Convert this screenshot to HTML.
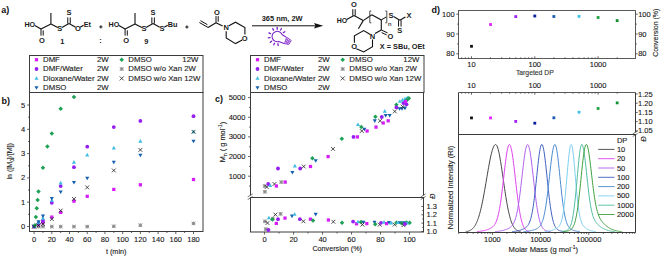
<!DOCTYPE html>
<html><head><meta charset="utf-8"><style>
html,body{margin:0;padding:0;background:#fff;}
svg{display:block;font-family:"Liberation Sans", sans-serif;}
</style></head><body>
<svg width="661" height="257" viewBox="0 0 661 257">
<rect width="661" height="257" fill="#fff"/>
<text x="1.2" y="12.8" font-size="9" text-anchor="start" font-weight="bold" fill="#111" >a)</text>
<text x="24.4" y="26.7" font-size="7.5" text-anchor="start" font-weight="bold" fill="#1a1a1a" textLength="10.69" lengthAdjust="spacingAndGlyphs" >HO</text>
<line x1="34.80" y1="25.50" x2="41.00" y2="28.90" stroke="#111" stroke-width="1.1" />
<line x1="41.00" y1="28.90" x2="41.00" y2="35.60" stroke="#111" stroke-width="1.0" />
<line x1="43.20" y1="30.37" x2="43.20" y2="35.60" stroke="#111" stroke-width="1.0" />
<text x="42.0" y="42.5" font-size="7.5" text-anchor="middle" font-weight="bold" fill="#1a1a1a" >O</text>
<line x1="41.00" y1="28.90" x2="50.90" y2="23.90" stroke="#111" stroke-width="1.1" />
<line x1="50.90" y1="23.90" x2="50.90" y2="12.90" stroke="#111" stroke-width="1.1" />
<line x1="50.90" y1="23.90" x2="57.80" y2="27.60" stroke="#111" stroke-width="1.1" />
<text x="59.8" y="31.2" font-size="7.5" text-anchor="middle" font-weight="bold" fill="#1a1a1a" >S</text>
<line x1="61.90" y1="27.40" x2="69.00" y2="23.60" stroke="#111" stroke-width="1.1" />
<line x1="70.25" y1="23.60" x2="70.25" y2="17.40" stroke="#111" stroke-width="1.0" />
<line x1="67.75" y1="23.60" x2="67.75" y2="17.40" stroke="#111" stroke-width="1.0" />
<text x="69.0" y="15.4" font-size="7.5" text-anchor="middle" font-weight="bold" fill="#1a1a1a" >S</text>
<line x1="69.00" y1="23.60" x2="75.60" y2="27.30" stroke="#111" stroke-width="1.1" />
<text x="77.9" y="31.2" font-size="7.5" text-anchor="middle" font-weight="bold" fill="#1a1a1a" >O</text>
<line x1="80.20" y1="27.30" x2="83.60" y2="25.30" stroke="#111" stroke-width="1.1" />
<text x="83.7" y="26.6" font-size="7.5" text-anchor="start" font-weight="bold" fill="#1a1a1a" textLength="7.27" lengthAdjust="spacingAndGlyphs" >Et</text>
<text x="62.3" y="43.8" font-size="7.4" text-anchor="middle" font-weight="bold" fill="#1a1a1a" >1</text>
<line x1="99.30" y1="26.90" x2="102.50" y2="26.90" stroke="#111" stroke-width="1.0" />
<line x1="100.90" y1="25.30" x2="100.90" y2="28.50" stroke="#111" stroke-width="1.0" />
<text x="100.6" y="43.2" font-size="7.4" text-anchor="middle" font-weight="bold" fill="#1a1a1a" >:</text>
<text x="108.5" y="26.7" font-size="7.5" text-anchor="start" font-weight="bold" fill="#1a1a1a" textLength="10.69" lengthAdjust="spacingAndGlyphs" >HO</text>
<line x1="118.90" y1="25.50" x2="125.10" y2="28.90" stroke="#111" stroke-width="1.1" />
<line x1="125.10" y1="28.90" x2="125.10" y2="35.60" stroke="#111" stroke-width="1.0" />
<line x1="127.30" y1="30.37" x2="127.30" y2="35.60" stroke="#111" stroke-width="1.0" />
<text x="126.1" y="42.5" font-size="7.5" text-anchor="middle" font-weight="bold" fill="#1a1a1a" >O</text>
<line x1="125.10" y1="28.90" x2="135.00" y2="23.90" stroke="#111" stroke-width="1.1" />
<line x1="135.00" y1="23.90" x2="135.00" y2="12.90" stroke="#111" stroke-width="1.1" />
<line x1="135.00" y1="23.90" x2="141.90" y2="27.60" stroke="#111" stroke-width="1.1" />
<text x="143.89999999999998" y="31.2" font-size="7.5" text-anchor="middle" font-weight="bold" fill="#1a1a1a" >S</text>
<line x1="146.00" y1="27.40" x2="153.10" y2="23.60" stroke="#111" stroke-width="1.1" />
<line x1="154.35" y1="23.60" x2="154.35" y2="17.40" stroke="#111" stroke-width="1.0" />
<line x1="151.85" y1="23.60" x2="151.85" y2="17.40" stroke="#111" stroke-width="1.0" />
<text x="153.1" y="15.4" font-size="7.5" text-anchor="middle" font-weight="bold" fill="#1a1a1a" >S</text>
<line x1="153.10" y1="23.60" x2="159.70" y2="27.30" stroke="#111" stroke-width="1.1" />
<text x="162.0" y="31.2" font-size="7.5" text-anchor="middle" font-weight="bold" fill="#1a1a1a" >S</text>
<line x1="164.30" y1="27.30" x2="167.70" y2="25.30" stroke="#111" stroke-width="1.1" />
<text x="167.8" y="26.6" font-size="7.5" text-anchor="start" font-weight="bold" fill="#1a1a1a" textLength="9.7" lengthAdjust="spacingAndGlyphs" >Bu</text>
<text x="146.2" y="44.0" font-size="7.4" text-anchor="middle" font-weight="bold" fill="#1a1a1a" >9</text>
<line x1="185.30" y1="27.00" x2="188.50" y2="27.00" stroke="#111" stroke-width="1.0" />
<line x1="186.90" y1="25.40" x2="186.90" y2="28.60" stroke="#111" stroke-width="1.0" />
<line x1="208.10" y1="27.50" x2="199.40" y2="22.50" stroke="#111" stroke-width="1.0" />
<line x1="207.41" y1="24.68" x2="200.45" y2="20.68" stroke="#111" stroke-width="1.0" />
<line x1="208.10" y1="27.50" x2="216.00" y2="22.70" stroke="#111" stroke-width="1.1" />
<line x1="216.00" y1="22.70" x2="216.00" y2="16.10" stroke="#111" stroke-width="1.0" />
<line x1="218.20" y1="21.71" x2="218.20" y2="16.10" stroke="#111" stroke-width="1.0" />
<text x="217.0" y="14.6" font-size="7.5" text-anchor="middle" font-weight="bold" fill="#1a1a1a" >O</text>
<line x1="216.00" y1="22.70" x2="222.60" y2="25.90" stroke="#111" stroke-width="1.1" />
<text x="226.2" y="30.0" font-size="7.5" text-anchor="middle" font-weight="bold" fill="#1a1a1a" >N</text>
<polyline points="228.90,25.70 235.50,22.20 244.90,27.50 244.90,34.40" fill="none" stroke="#111" stroke-width="1.1" stroke-linejoin="miter"/>
<text x="244.7" y="40.8" font-size="7.5" text-anchor="middle" font-weight="bold" fill="#1a1a1a" >O</text>
<polyline points="242.20,40.10 235.50,43.60 226.20,38.00 226.20,31.20" fill="none" stroke="#111" stroke-width="1.1" stroke-linejoin="miter"/>
<line x1="252.00" y1="25.80" x2="316.50" y2="25.80" stroke="#111" stroke-width="1.0" />
<polygon points="314.0,23.0 323.2,25.8 314.0,28.6 315.5,25.8" fill="#111"/>
<text x="261.7" y="21.4" font-size="7" text-anchor="start" font-weight="bold" fill="#1a1a1a" textLength="40.9" lengthAdjust="spacingAndGlyphs" >365 nm, 2W</text>
<path d="M 281.97,34.57 A 5.15 5.15 0 1 0 278.79,41.40 L 282.8,43.0 L 284.6,43.9 M 281.97,34.57 L 284.3,36.0 L 285.9,37.2" fill="none" stroke="#7a22c8" stroke-width="1.05" stroke-linejoin="round"/>
<polygon points="286.6,37.1 291.3,40.5 288.7,44.6 284.5,43.6" fill="#7a22c8" fill-opacity="0.18" stroke="#7a22c8" stroke-width="0.75"/>
<line x1="288.15" y1="38.22" x2="285.89" y2="43.93" stroke="#7a22c8" stroke-width="0.6" />
<line x1="285.91" y1="39.25" x2="290.44" y2="41.85" stroke="#7a22c8" stroke-width="0.6" />
<line x1="289.70" y1="39.34" x2="287.27" y2="44.26" stroke="#7a22c8" stroke-width="0.6" />
<line x1="285.21" y1="41.39" x2="289.58" y2="43.21" stroke="#7a22c8" stroke-width="0.6" />
<line x1="270.48" y1="33.65" x2="268.92" y2="32.98" stroke="#7a22c8" stroke-width="1.35" stroke-linecap="round"/>
<line x1="273.55" y1="30.18" x2="272.70" y2="28.71" stroke="#7a22c8" stroke-width="1.35" stroke-linecap="round"/>
<line x1="277.20" y1="29.20" x2="277.20" y2="27.50" stroke="#7a22c8" stroke-width="1.35" stroke-linecap="round"/>
<line x1="280.63" y1="30.05" x2="281.43" y2="28.55" stroke="#7a22c8" stroke-width="1.35" stroke-linecap="round"/>
<line x1="283.39" y1="32.63" x2="284.83" y2="31.73" stroke="#7a22c8" stroke-width="1.35" stroke-linecap="round"/>
<line x1="269.99" y1="37.64" x2="268.31" y2="37.91" stroke="#7a22c8" stroke-width="1.35" stroke-linecap="round"/>
<line x1="271.61" y1="41.19" x2="270.31" y2="42.29" stroke="#7a22c8" stroke-width="1.35" stroke-linecap="round"/>
<line x1="274.47" y1="43.27" x2="273.83" y2="44.84" stroke="#7a22c8" stroke-width="1.35" stroke-linecap="round"/>
<line x1="277.96" y1="43.76" x2="278.14" y2="45.45" stroke="#7a22c8" stroke-width="1.35" stroke-linecap="round"/>
<text x="336.8" y="22.7" font-size="7.5" text-anchor="start" font-weight="bold" fill="#1a1a1a" textLength="10.46" lengthAdjust="spacingAndGlyphs" >HO</text>
<line x1="346.60" y1="19.60" x2="354.00" y2="15.60" stroke="#111" stroke-width="1.1" />
<line x1="355.20" y1="15.60" x2="355.20" y2="9.20" stroke="#111" stroke-width="1.0" />
<line x1="352.80" y1="15.60" x2="352.80" y2="9.20" stroke="#111" stroke-width="1.0" />
<text x="354.0" y="6.7" font-size="7.5" text-anchor="middle" font-weight="bold" fill="#1a1a1a" >O</text>
<line x1="354.00" y1="15.60" x2="363.20" y2="20.60" stroke="#111" stroke-width="1.1" />
<line x1="363.20" y1="20.60" x2="358.40" y2="28.80" stroke="#111" stroke-width="1.1" />
<line x1="363.20" y1="20.60" x2="371.80" y2="14.70" stroke="#111" stroke-width="1.1" />
<line x1="371.80" y1="14.70" x2="381.30" y2="19.90" stroke="#111" stroke-width="1.1" />
<line x1="381.30" y1="19.90" x2="381.30" y2="30.00" stroke="#111" stroke-width="1.1" />
<line x1="381.30" y1="19.90" x2="386.40" y2="16.90" stroke="#111" stroke-width="1.1" />
<path d="M371.3,11 H369.8 V22.8 H371.3" fill="none" stroke="#444" stroke-width="0.95"/>
<path d="M385.3,11 H386.8 V22.8 H385.3" fill="none" stroke="#444" stroke-width="0.95"/>
<text x="387.9" y="26.0" font-size="6.2" text-anchor="start" font-weight="normal" fill="#1a1a1a" stroke="#1a1a1a" stroke-width="0.12" >n</text>
<text x="390.9" y="17.6" font-size="7.5" text-anchor="middle" font-weight="bold" fill="#1a1a1a" >S</text>
<line x1="393.60" y1="16.60" x2="399.80" y2="20.20" stroke="#111" stroke-width="1.1" />
<line x1="399.80" y1="20.20" x2="405.40" y2="17.00" stroke="#111" stroke-width="1.1" />
<text x="409.0" y="17.6" font-size="7.5" text-anchor="middle" font-weight="bold" fill="#1a1a1a" >X</text>
<line x1="398.55" y1="20.20" x2="398.55" y2="26.60" stroke="#111" stroke-width="1.0" />
<line x1="401.05" y1="20.20" x2="401.05" y2="26.60" stroke="#111" stroke-width="1.0" />
<text x="399.8" y="33.2" font-size="7.5" text-anchor="middle" font-weight="bold" fill="#1a1a1a" >S</text>
<line x1="381.30" y1="30.00" x2="387.60" y2="32.90" stroke="#111" stroke-width="1.0" />
<line x1="381.64" y1="32.58" x2="386.68" y2="34.90" stroke="#111" stroke-width="1.0" />
<text x="390.4" y="38.7" font-size="7.5" text-anchor="middle" font-weight="bold" fill="#1a1a1a" >O</text>
<line x1="381.30" y1="30.00" x2="375.00" y2="33.60" stroke="#111" stroke-width="1.1" />
<text x="372.5" y="38.6" font-size="7.5" text-anchor="middle" font-weight="bold" fill="#1a1a1a" >N</text>
<polyline points="370.30,34.40 363.70,30.60 354.40,35.80 354.40,42.80" fill="none" stroke="#111" stroke-width="1.1" stroke-linejoin="miter"/>
<text x="354.1" y="48.8" font-size="7.5" text-anchor="middle" font-weight="bold" fill="#1a1a1a" >O</text>
<polyline points="356.40,48.80 363.70,52.00 372.50,46.60 372.50,39.60" fill="none" stroke="#111" stroke-width="1.1" stroke-linejoin="miter"/>
<text x="379.8" y="48.6" font-size="7.3" text-anchor="start" font-weight="bold" fill="#1a1a1a" textLength="45.0" lengthAdjust="spacingAndGlyphs" >X = SBu, OEt</text>
<rect x="29.5" y="55.5" width="173.5" height="37" fill="none" stroke="#3c3c3c" stroke-width="1"/>
<rect x="34.88" y="58.08" width="3.25" height="3.25" fill="#d41cf6"/>
<circle cx="36.50" cy="69.00" r="1.9" fill="#961ef0"/>
<polygon points="36.50,76.26 38.55,79.83 34.45,79.83" fill="#40bde2"/>
<polygon points="36.50,89.74 38.55,86.17 34.45,86.17" fill="#1460ae"/>
<text x="43.0" y="62.1" font-size="7.5" text-anchor="start" font-weight="normal" fill="#1a1a1a" stroke="#1a1a1a" stroke-width="0.12" textLength="16.89" lengthAdjust="spacingAndGlyphs" >DMF</text>
<text x="43.0" y="71.4" font-size="7.5" text-anchor="start" font-weight="normal" fill="#1a1a1a" stroke="#1a1a1a" stroke-width="0.12" textLength="39.86" lengthAdjust="spacingAndGlyphs" >DMF/Water</text>
<text x="43.0" y="80.8" font-size="7.5" text-anchor="start" font-weight="normal" fill="#1a1a1a" stroke="#1a1a1a" stroke-width="0.12" textLength="51.59" lengthAdjust="spacingAndGlyphs" >Dioxane/Water</text>
<text x="43.0" y="90.0" font-size="7.5" text-anchor="start" font-weight="normal" fill="#1a1a1a" stroke="#1a1a1a" stroke-width="0.12" textLength="23.4" lengthAdjust="spacingAndGlyphs" >DMSO</text>
<text x="97.0" y="62.1" font-size="7.5" text-anchor="start" font-weight="normal" fill="#1a1a1a" stroke="#1a1a1a" stroke-width="0.12" textLength="11.7" lengthAdjust="spacingAndGlyphs" >2W</text>
<text x="97.0" y="71.4" font-size="7.5" text-anchor="start" font-weight="normal" fill="#1a1a1a" stroke="#1a1a1a" stroke-width="0.12" textLength="11.7" lengthAdjust="spacingAndGlyphs" >2W</text>
<text x="97.0" y="80.8" font-size="7.5" text-anchor="start" font-weight="normal" fill="#1a1a1a" stroke="#1a1a1a" stroke-width="0.12" textLength="11.7" lengthAdjust="spacingAndGlyphs" >2W</text>
<text x="97.0" y="90.0" font-size="7.5" text-anchor="start" font-weight="normal" fill="#1a1a1a" stroke="#1a1a1a" stroke-width="0.12" textLength="11.7" lengthAdjust="spacingAndGlyphs" >2W</text>
<polygon points="121.70,57.45 123.95,59.70 121.70,61.95 119.45,59.70" fill="#1ea055"/>
<g stroke="#8a8a8a" stroke-width="0.9"><line x1="119.90" y1="67.20" x2="123.50" y2="70.80"/><line x1="119.90" y1="70.80" x2="123.50" y2="67.20"/><line x1="119.90" y1="69.00" x2="123.50" y2="69.00"/><line x1="121.70" y1="67.20" x2="121.70" y2="70.80"/></g>
<rect x="120.26" y="67.56" width="2.88" height="2.88" fill="#8a8a8a" opacity="0.55"/>
<g stroke="#222222" stroke-width="0.8"><line x1="119.70" y1="76.40" x2="123.70" y2="80.40"/><line x1="119.70" y1="80.40" x2="123.70" y2="76.40"/></g>
<text x="128.3" y="62.1" font-size="7.5" text-anchor="start" font-weight="normal" fill="#1a1a1a" stroke="#1a1a1a" stroke-width="0.12" textLength="23.4" lengthAdjust="spacingAndGlyphs" >DMSO</text>
<text x="198.4" y="62.1" font-size="7.5" text-anchor="end" font-weight="normal" fill="#1a1a1a" stroke="#1a1a1a" stroke-width="0.12" textLength="16.04" lengthAdjust="spacingAndGlyphs" >12W</text>
<text x="128.3" y="71.4" font-size="7.5" text-anchor="start" font-weight="normal" fill="#1a1a1a" stroke="#1a1a1a" stroke-width="0.12" textLength="67.62" lengthAdjust="spacingAndGlyphs" >DMSO w/o Xan 2W</text>
<text x="128.3" y="80.8" font-size="7.5" text-anchor="start" font-weight="normal" fill="#1a1a1a" stroke="#1a1a1a" stroke-width="0.12" textLength="71.96" lengthAdjust="spacingAndGlyphs" >DMSO w/o Xan 12W</text>
<rect x="250.5" y="55.5" width="173.5" height="37" fill="none" stroke="#3c3c3c" stroke-width="1"/>
<rect x="255.88" y="58.08" width="3.25" height="3.25" fill="#d41cf6"/>
<circle cx="257.50" cy="69.00" r="1.9" fill="#961ef0"/>
<polygon points="257.50,76.26 259.55,79.83 255.45,79.83" fill="#40bde2"/>
<polygon points="257.50,89.74 259.55,86.17 255.45,86.17" fill="#1460ae"/>
<text x="264.0" y="62.1" font-size="7.5" text-anchor="start" font-weight="normal" fill="#1a1a1a" stroke="#1a1a1a" stroke-width="0.12" textLength="16.89" lengthAdjust="spacingAndGlyphs" >DMF</text>
<text x="264.0" y="71.4" font-size="7.5" text-anchor="start" font-weight="normal" fill="#1a1a1a" stroke="#1a1a1a" stroke-width="0.12" textLength="39.86" lengthAdjust="spacingAndGlyphs" >DMF/Water</text>
<text x="264.0" y="80.8" font-size="7.5" text-anchor="start" font-weight="normal" fill="#1a1a1a" stroke="#1a1a1a" stroke-width="0.12" textLength="51.59" lengthAdjust="spacingAndGlyphs" >Dioxane/Water</text>
<text x="264.0" y="90.0" font-size="7.5" text-anchor="start" font-weight="normal" fill="#1a1a1a" stroke="#1a1a1a" stroke-width="0.12" textLength="23.4" lengthAdjust="spacingAndGlyphs" >DMSO</text>
<text x="318.0" y="62.1" font-size="7.5" text-anchor="start" font-weight="normal" fill="#1a1a1a" stroke="#1a1a1a" stroke-width="0.12" textLength="11.7" lengthAdjust="spacingAndGlyphs" >2W</text>
<text x="318.0" y="71.4" font-size="7.5" text-anchor="start" font-weight="normal" fill="#1a1a1a" stroke="#1a1a1a" stroke-width="0.12" textLength="11.7" lengthAdjust="spacingAndGlyphs" >2W</text>
<text x="318.0" y="80.8" font-size="7.5" text-anchor="start" font-weight="normal" fill="#1a1a1a" stroke="#1a1a1a" stroke-width="0.12" textLength="11.7" lengthAdjust="spacingAndGlyphs" >2W</text>
<text x="318.0" y="90.0" font-size="7.5" text-anchor="start" font-weight="normal" fill="#1a1a1a" stroke="#1a1a1a" stroke-width="0.12" textLength="11.7" lengthAdjust="spacingAndGlyphs" >2W</text>
<polygon points="342.70,57.45 344.95,59.70 342.70,61.95 340.45,59.70" fill="#1ea055"/>
<g stroke="#8a8a8a" stroke-width="0.9"><line x1="340.90" y1="67.20" x2="344.50" y2="70.80"/><line x1="340.90" y1="70.80" x2="344.50" y2="67.20"/><line x1="340.90" y1="69.00" x2="344.50" y2="69.00"/><line x1="342.70" y1="67.20" x2="342.70" y2="70.80"/></g>
<rect x="341.26" y="67.56" width="2.88" height="2.88" fill="#8a8a8a" opacity="0.55"/>
<g stroke="#222222" stroke-width="0.8"><line x1="340.70" y1="76.40" x2="344.70" y2="80.40"/><line x1="340.70" y1="80.40" x2="344.70" y2="76.40"/></g>
<text x="349.3" y="62.1" font-size="7.5" text-anchor="start" font-weight="normal" fill="#1a1a1a" stroke="#1a1a1a" stroke-width="0.12" textLength="23.4" lengthAdjust="spacingAndGlyphs" >DMSO</text>
<text x="419.4" y="62.1" font-size="7.5" text-anchor="end" font-weight="normal" fill="#1a1a1a" stroke="#1a1a1a" stroke-width="0.12" textLength="16.04" lengthAdjust="spacingAndGlyphs" >12W</text>
<text x="349.3" y="71.4" font-size="7.5" text-anchor="start" font-weight="normal" fill="#1a1a1a" stroke="#1a1a1a" stroke-width="0.12" textLength="67.62" lengthAdjust="spacingAndGlyphs" >DMSO w/o Xan 2W</text>
<text x="349.3" y="80.8" font-size="7.5" text-anchor="start" font-weight="normal" fill="#1a1a1a" stroke="#1a1a1a" stroke-width="0.12" textLength="71.96" lengthAdjust="spacingAndGlyphs" >DMSO w/o Xan 12W</text>
<rect x="29.5" y="92.5" width="173.5" height="139.0" fill="none" stroke="#3c3c3c" stroke-width="1"/>
<line x1="27.10" y1="226.50" x2="29.50" y2="226.50" stroke="#3a3a3a" stroke-width="0.8" />
<text x="25.2" y="229.0" font-size="7.5" text-anchor="end" font-weight="normal" fill="#1a1a1a" stroke="#1a1a1a" stroke-width="0.12" >0</text>
<line x1="28.10" y1="214.35" x2="29.50" y2="214.35" stroke="#3a3a3a" stroke-width="0.8" />
<line x1="27.10" y1="202.20" x2="29.50" y2="202.20" stroke="#3a3a3a" stroke-width="0.8" />
<text x="25.2" y="204.7" font-size="7.5" text-anchor="end" font-weight="normal" fill="#1a1a1a" stroke="#1a1a1a" stroke-width="0.12" >1</text>
<line x1="28.10" y1="190.05" x2="29.50" y2="190.05" stroke="#3a3a3a" stroke-width="0.8" />
<line x1="27.10" y1="177.90" x2="29.50" y2="177.90" stroke="#3a3a3a" stroke-width="0.8" />
<text x="25.2" y="180.4" font-size="7.5" text-anchor="end" font-weight="normal" fill="#1a1a1a" stroke="#1a1a1a" stroke-width="0.12" >2</text>
<line x1="28.10" y1="165.75" x2="29.50" y2="165.75" stroke="#3a3a3a" stroke-width="0.8" />
<line x1="27.10" y1="153.60" x2="29.50" y2="153.60" stroke="#3a3a3a" stroke-width="0.8" />
<text x="25.2" y="156.1" font-size="7.5" text-anchor="end" font-weight="normal" fill="#1a1a1a" stroke="#1a1a1a" stroke-width="0.12" >3</text>
<line x1="28.10" y1="141.45" x2="29.50" y2="141.45" stroke="#3a3a3a" stroke-width="0.8" />
<line x1="27.10" y1="129.30" x2="29.50" y2="129.30" stroke="#3a3a3a" stroke-width="0.8" />
<text x="25.2" y="131.8" font-size="7.5" text-anchor="end" font-weight="normal" fill="#1a1a1a" stroke="#1a1a1a" stroke-width="0.12" >4</text>
<line x1="28.10" y1="117.15" x2="29.50" y2="117.15" stroke="#3a3a3a" stroke-width="0.8" />
<line x1="27.10" y1="105.00" x2="29.50" y2="105.00" stroke="#3a3a3a" stroke-width="0.8" />
<text x="25.2" y="107.5" font-size="7.5" text-anchor="end" font-weight="normal" fill="#1a1a1a" stroke="#1a1a1a" stroke-width="0.12" >5</text>
<line x1="34.10" y1="231.50" x2="34.10" y2="234.10" stroke="#3a3a3a" stroke-width="0.8" />
<text x="34.1" y="242.3" font-size="7.5" text-anchor="middle" font-weight="normal" fill="#1a1a1a" stroke="#1a1a1a" stroke-width="0.12" >0</text>
<line x1="42.96" y1="231.50" x2="42.96" y2="233.00" stroke="#3a3a3a" stroke-width="0.8" />
<line x1="51.81" y1="231.50" x2="51.81" y2="234.10" stroke="#3a3a3a" stroke-width="0.8" />
<text x="51.812" y="242.3" font-size="7.5" text-anchor="middle" font-weight="normal" fill="#1a1a1a" stroke="#1a1a1a" stroke-width="0.12" >20</text>
<line x1="60.67" y1="231.50" x2="60.67" y2="233.00" stroke="#3a3a3a" stroke-width="0.8" />
<line x1="69.52" y1="231.50" x2="69.52" y2="234.10" stroke="#3a3a3a" stroke-width="0.8" />
<text x="69.524" y="242.3" font-size="7.5" text-anchor="middle" font-weight="normal" fill="#1a1a1a" stroke="#1a1a1a" stroke-width="0.12" >40</text>
<line x1="78.38" y1="231.50" x2="78.38" y2="233.00" stroke="#3a3a3a" stroke-width="0.8" />
<line x1="87.24" y1="231.50" x2="87.24" y2="234.10" stroke="#3a3a3a" stroke-width="0.8" />
<text x="87.236" y="242.3" font-size="7.5" text-anchor="middle" font-weight="normal" fill="#1a1a1a" stroke="#1a1a1a" stroke-width="0.12" >60</text>
<line x1="96.09" y1="231.50" x2="96.09" y2="233.00" stroke="#3a3a3a" stroke-width="0.8" />
<line x1="104.95" y1="231.50" x2="104.95" y2="234.10" stroke="#3a3a3a" stroke-width="0.8" />
<text x="104.94800000000001" y="242.3" font-size="7.5" text-anchor="middle" font-weight="normal" fill="#1a1a1a" stroke="#1a1a1a" stroke-width="0.12" >80</text>
<line x1="113.80" y1="231.50" x2="113.80" y2="233.00" stroke="#3a3a3a" stroke-width="0.8" />
<line x1="122.66" y1="231.50" x2="122.66" y2="234.10" stroke="#3a3a3a" stroke-width="0.8" />
<text x="122.66" y="242.3" font-size="7.5" text-anchor="middle" font-weight="normal" fill="#1a1a1a" stroke="#1a1a1a" stroke-width="0.12" >100</text>
<line x1="131.52" y1="231.50" x2="131.52" y2="233.00" stroke="#3a3a3a" stroke-width="0.8" />
<line x1="140.37" y1="231.50" x2="140.37" y2="234.10" stroke="#3a3a3a" stroke-width="0.8" />
<text x="140.372" y="242.3" font-size="7.5" text-anchor="middle" font-weight="normal" fill="#1a1a1a" stroke="#1a1a1a" stroke-width="0.12" >120</text>
<line x1="149.23" y1="231.50" x2="149.23" y2="233.00" stroke="#3a3a3a" stroke-width="0.8" />
<line x1="158.08" y1="231.50" x2="158.08" y2="234.10" stroke="#3a3a3a" stroke-width="0.8" />
<text x="158.084" y="242.3" font-size="7.5" text-anchor="middle" font-weight="normal" fill="#1a1a1a" stroke="#1a1a1a" stroke-width="0.12" >140</text>
<line x1="166.94" y1="231.50" x2="166.94" y2="233.00" stroke="#3a3a3a" stroke-width="0.8" />
<line x1="175.80" y1="231.50" x2="175.80" y2="234.10" stroke="#3a3a3a" stroke-width="0.8" />
<text x="175.796" y="242.3" font-size="7.5" text-anchor="middle" font-weight="normal" fill="#1a1a1a" stroke="#1a1a1a" stroke-width="0.12" >160</text>
<line x1="184.65" y1="231.50" x2="184.65" y2="233.00" stroke="#3a3a3a" stroke-width="0.8" />
<line x1="193.51" y1="231.50" x2="193.51" y2="234.10" stroke="#3a3a3a" stroke-width="0.8" />
<text x="193.508" y="242.3" font-size="7.5" text-anchor="middle" font-weight="normal" fill="#1a1a1a" stroke="#1a1a1a" stroke-width="0.12" >180</text>
<text x="1.6" y="104.3" font-size="9" text-anchor="start" font-weight="bold" fill="#111" >b)</text>
<text transform="translate(12.4,161.3) rotate(-90)" font-size="7.1" text-anchor="middle" fill="#1a1a1a" stroke="#1a1a1a" stroke-width="0.12">ln ([M<tspan font-size="4.8" dy="1.5">0</tspan><tspan dy="-1.5">]/[M])</tspan></text>
<text x="116.2" y="253.6" font-size="7.25" text-anchor="middle" font-weight="normal" fill="#1a1a1a" stroke="#1a1a1a" stroke-width="0.12" >t (min)</text>
<g stroke="#8a8a8a" stroke-width="0.9"><line x1="32.30" y1="224.80" x2="35.90" y2="228.40"/><line x1="32.30" y1="228.40" x2="35.90" y2="224.80"/><line x1="32.30" y1="226.60" x2="35.90" y2="226.60"/><line x1="34.10" y1="224.80" x2="34.10" y2="228.40"/></g>
<rect x="32.66" y="225.16" width="2.88" height="2.88" fill="#8a8a8a" opacity="0.55"/>
<g stroke="#8a8a8a" stroke-width="0.9"><line x1="36.73" y1="224.80" x2="40.33" y2="228.40"/><line x1="36.73" y1="228.40" x2="40.33" y2="224.80"/><line x1="36.73" y1="226.60" x2="40.33" y2="226.60"/><line x1="38.53" y1="224.80" x2="38.53" y2="228.40"/></g>
<rect x="37.09" y="225.16" width="2.88" height="2.88" fill="#8a8a8a" opacity="0.55"/>
<g stroke="#8a8a8a" stroke-width="0.9"><line x1="41.16" y1="224.80" x2="44.76" y2="228.40"/><line x1="41.16" y1="228.40" x2="44.76" y2="224.80"/><line x1="41.16" y1="226.60" x2="44.76" y2="226.60"/><line x1="42.96" y1="224.80" x2="42.96" y2="228.40"/></g>
<rect x="41.52" y="225.16" width="2.88" height="2.88" fill="#8a8a8a" opacity="0.55"/>
<g stroke="#8a8a8a" stroke-width="0.9"><line x1="50.01" y1="224.80" x2="53.61" y2="228.40"/><line x1="50.01" y1="228.40" x2="53.61" y2="224.80"/><line x1="50.01" y1="226.60" x2="53.61" y2="226.60"/><line x1="51.81" y1="224.80" x2="51.81" y2="228.40"/></g>
<rect x="50.37" y="225.16" width="2.88" height="2.88" fill="#8a8a8a" opacity="0.55"/>
<g stroke="#8a8a8a" stroke-width="0.9"><line x1="58.87" y1="224.80" x2="62.47" y2="228.40"/><line x1="58.87" y1="228.40" x2="62.47" y2="224.80"/><line x1="58.87" y1="226.60" x2="62.47" y2="226.60"/><line x1="60.67" y1="224.80" x2="60.67" y2="228.40"/></g>
<rect x="59.23" y="225.16" width="2.88" height="2.88" fill="#8a8a8a" opacity="0.55"/>
<g stroke="#8a8a8a" stroke-width="0.9"><line x1="72.15" y1="224.80" x2="75.75" y2="228.40"/><line x1="72.15" y1="228.40" x2="75.75" y2="224.80"/><line x1="72.15" y1="226.60" x2="75.75" y2="226.60"/><line x1="73.95" y1="224.80" x2="73.95" y2="228.40"/></g>
<rect x="72.51" y="225.16" width="2.88" height="2.88" fill="#8a8a8a" opacity="0.55"/>
<g stroke="#8a8a8a" stroke-width="0.9"><line x1="85.44" y1="224.80" x2="89.04" y2="228.40"/><line x1="85.44" y1="228.40" x2="89.04" y2="224.80"/><line x1="85.44" y1="226.60" x2="89.04" y2="226.60"/><line x1="87.24" y1="224.80" x2="87.24" y2="228.40"/></g>
<rect x="85.80" y="225.16" width="2.88" height="2.88" fill="#8a8a8a" opacity="0.55"/>
<g stroke="#8a8a8a" stroke-width="0.9"><line x1="112.00" y1="224.50" x2="115.60" y2="228.10"/><line x1="112.00" y1="228.10" x2="115.60" y2="224.50"/><line x1="112.00" y1="226.30" x2="115.60" y2="226.30"/><line x1="113.80" y1="224.50" x2="113.80" y2="228.10"/></g>
<rect x="112.36" y="224.86" width="2.88" height="2.88" fill="#8a8a8a" opacity="0.55"/>
<g stroke="#8a8a8a" stroke-width="0.9"><line x1="138.57" y1="223.40" x2="142.17" y2="227.00"/><line x1="138.57" y1="227.00" x2="142.17" y2="223.40"/><line x1="138.57" y1="225.20" x2="142.17" y2="225.20"/><line x1="140.37" y1="223.40" x2="140.37" y2="227.00"/></g>
<rect x="138.93" y="223.76" width="2.88" height="2.88" fill="#8a8a8a" opacity="0.55"/>
<g stroke="#8a8a8a" stroke-width="0.9"><line x1="191.71" y1="221.60" x2="195.31" y2="225.20"/><line x1="191.71" y1="225.20" x2="195.31" y2="221.60"/><line x1="191.71" y1="223.40" x2="195.31" y2="223.40"/><line x1="193.51" y1="221.60" x2="193.51" y2="225.20"/></g>
<rect x="192.07" y="221.96" width="2.88" height="2.88" fill="#8a8a8a" opacity="0.55"/>
<rect x="32.48" y="224.97" width="3.25" height="3.25" fill="#d41cf6"/>
<rect x="36.90" y="222.97" width="3.25" height="3.25" fill="#d41cf6"/>
<rect x="41.33" y="221.07" width="3.25" height="3.25" fill="#d41cf6"/>
<rect x="50.19" y="215.47" width="3.25" height="3.25" fill="#d41cf6"/>
<rect x="59.04" y="210.78" width="3.25" height="3.25" fill="#d41cf6"/>
<rect x="72.33" y="199.57" width="3.25" height="3.25" fill="#d41cf6"/>
<rect x="85.61" y="194.68" width="3.25" height="3.25" fill="#d41cf6"/>
<rect x="112.18" y="187.78" width="3.25" height="3.25" fill="#d41cf6"/>
<rect x="138.75" y="183.18" width="3.25" height="3.25" fill="#d41cf6"/>
<rect x="191.88" y="177.88" width="3.25" height="3.25" fill="#d41cf6"/>
<circle cx="34.10" cy="226.60" r="1.9" fill="#961ef0"/>
<circle cx="38.53" cy="223.50" r="1.9" fill="#961ef0"/>
<circle cx="42.96" cy="220.70" r="1.9" fill="#961ef0"/>
<circle cx="51.81" cy="202.80" r="1.9" fill="#961ef0"/>
<circle cx="60.67" cy="186.10" r="1.9" fill="#961ef0"/>
<circle cx="73.95" cy="167.20" r="1.9" fill="#961ef0"/>
<circle cx="87.24" cy="146.70" r="1.9" fill="#961ef0"/>
<circle cx="113.80" cy="127.10" r="1.9" fill="#961ef0"/>
<circle cx="140.37" cy="120.90" r="1.9" fill="#961ef0"/>
<circle cx="193.51" cy="116.20" r="1.9" fill="#961ef0"/>
<polygon points="34.10,224.46 36.15,228.03 32.05,228.03" fill="#40bde2"/>
<polygon points="38.53,220.66 40.58,224.23 36.48,224.23" fill="#40bde2"/>
<polygon points="42.96,216.16 45.01,219.73 40.91,219.73" fill="#40bde2"/>
<polygon points="51.81,198.26 53.86,201.83 49.76,201.83" fill="#40bde2"/>
<polygon points="60.67,180.86 62.72,184.43 58.62,184.43" fill="#40bde2"/>
<polygon points="73.95,160.06 76.00,163.63 71.90,163.63" fill="#40bde2"/>
<polygon points="87.24,152.86 89.29,156.43 85.19,156.43" fill="#40bde2"/>
<polygon points="113.80,145.86 115.85,149.43 111.75,149.43" fill="#40bde2"/>
<polygon points="140.37,139.06 142.42,142.63 138.32,142.63" fill="#40bde2"/>
<polygon points="193.51,129.66 195.56,133.23 191.46,133.23" fill="#40bde2"/>
<polygon points="34.10,228.34 36.15,224.77 32.05,224.77" fill="#1460ae"/>
<polygon points="38.53,223.94 40.58,220.37 36.48,220.37" fill="#1460ae"/>
<polygon points="42.96,218.14 45.01,214.57 40.91,214.57" fill="#1460ae"/>
<polygon points="51.81,200.54 53.86,196.97 49.76,196.97" fill="#1460ae"/>
<polygon points="60.67,194.04 62.72,190.47 58.62,190.47" fill="#1460ae"/>
<polygon points="73.95,184.54 76.00,180.97 71.90,180.97" fill="#1460ae"/>
<polygon points="87.24,180.24 89.29,176.67 85.19,176.67" fill="#1460ae"/>
<polygon points="113.80,164.34 115.85,160.77 111.75,160.77" fill="#1460ae"/>
<polygon points="140.37,157.34 142.42,153.77 138.32,153.77" fill="#1460ae"/>
<polygon points="193.51,143.34 195.56,139.77 191.46,139.77" fill="#1460ae"/>
<polygon points="34.99,222.95 37.24,225.20 34.99,227.45 32.74,225.20" fill="#1ea055"/>
<polygon points="35.87,214.75 38.12,217.00 35.87,219.25 33.62,217.00" fill="#1ea055"/>
<polygon points="36.76,205.95 39.01,208.20 36.76,210.45 34.51,208.20" fill="#1ea055"/>
<polygon points="37.64,197.75 39.89,200.00 37.64,202.25 35.39,200.00" fill="#1ea055"/>
<polygon points="38.53,189.15 40.78,191.40 38.53,193.65 36.28,191.40" fill="#1ea055"/>
<polygon points="42.96,165.55 45.21,167.80 42.96,170.05 40.71,167.80" fill="#1ea055"/>
<polygon points="47.38,144.15 49.63,146.40 47.38,148.65 45.13,146.40" fill="#1ea055"/>
<polygon points="51.81,131.35 54.06,133.60 51.81,135.85 49.56,133.60" fill="#1ea055"/>
<polygon points="60.67,106.45 62.92,108.70 60.67,110.95 58.42,108.70" fill="#1ea055"/>
<polygon points="73.95,94.65 76.20,96.90 73.95,99.15 71.70,96.90" fill="#1ea055"/>
<g stroke="#222222" stroke-width="0.8"><line x1="32.20" y1="224.70" x2="36.00" y2="228.50"/><line x1="32.20" y1="228.50" x2="36.00" y2="224.70"/></g>
<g stroke="#222222" stroke-width="0.8"><line x1="36.63" y1="223.50" x2="40.43" y2="227.30"/><line x1="36.63" y1="227.30" x2="40.43" y2="223.50"/></g>
<g stroke="#222222" stroke-width="0.8"><line x1="41.06" y1="222.10" x2="44.86" y2="225.90"/><line x1="41.06" y1="225.90" x2="44.86" y2="222.10"/></g>
<g stroke="#222222" stroke-width="0.8"><line x1="49.91" y1="217.20" x2="53.71" y2="221.00"/><line x1="49.91" y1="221.00" x2="53.71" y2="217.20"/></g>
<g stroke="#222222" stroke-width="0.8"><line x1="58.77" y1="208.70" x2="62.57" y2="212.50"/><line x1="58.77" y1="212.50" x2="62.57" y2="208.70"/></g>
<g stroke="#222222" stroke-width="0.8"><line x1="72.05" y1="197.00" x2="75.85" y2="200.80"/><line x1="72.05" y1="200.80" x2="75.85" y2="197.00"/></g>
<g stroke="#222222" stroke-width="0.8"><line x1="85.34" y1="185.50" x2="89.14" y2="189.30"/><line x1="85.34" y1="189.30" x2="89.14" y2="185.50"/></g>
<g stroke="#222222" stroke-width="0.8"><line x1="111.90" y1="168.50" x2="115.70" y2="172.30"/><line x1="111.90" y1="172.30" x2="115.70" y2="168.50"/></g>
<g stroke="#222222" stroke-width="0.8"><line x1="138.47" y1="148.00" x2="142.27" y2="151.80"/><line x1="138.47" y1="151.80" x2="142.27" y2="148.00"/></g>
<g stroke="#222222" stroke-width="0.8"><line x1="191.61" y1="129.90" x2="195.41" y2="133.70"/><line x1="191.61" y1="133.70" x2="195.41" y2="129.90"/></g>
<rect x="250.5" y="92.5" width="173.0" height="139.5" fill="none" stroke="#3c3c3c" stroke-width="1"/>
<line x1="250.50" y1="197.50" x2="423.50" y2="197.50" stroke="#3a3a3a" stroke-width="1.0" />
<rect x="248.0" y="195.3" width="5" height="1.7" fill="#fff"/>
<line x1="247.70" y1="196.90" x2="252.70" y2="193.90" stroke="#3a3a3a" stroke-width="0.7" />
<line x1="247.70" y1="199.50" x2="252.70" y2="196.50" stroke="#3a3a3a" stroke-width="0.7" />
<rect x="421.0" y="195.3" width="5" height="1.7" fill="#fff"/>
<line x1="420.70" y1="196.90" x2="425.70" y2="193.90" stroke="#3a3a3a" stroke-width="0.7" />
<line x1="420.70" y1="199.50" x2="425.70" y2="196.50" stroke="#3a3a3a" stroke-width="0.7" />
<line x1="249.10" y1="186.03" x2="250.50" y2="186.03" stroke="#3a3a3a" stroke-width="0.8" />
<line x1="248.10" y1="176.20" x2="250.50" y2="176.20" stroke="#3a3a3a" stroke-width="0.8" />
<text x="245.4" y="178.7" font-size="7.5" text-anchor="end" font-weight="normal" fill="#1a1a1a" stroke="#1a1a1a" stroke-width="0.12" >1000</text>
<line x1="249.10" y1="166.38" x2="250.50" y2="166.38" stroke="#3a3a3a" stroke-width="0.8" />
<line x1="248.10" y1="156.55" x2="250.50" y2="156.55" stroke="#3a3a3a" stroke-width="0.8" />
<text x="245.4" y="159.04999999999998" font-size="7.5" text-anchor="end" font-weight="normal" fill="#1a1a1a" stroke="#1a1a1a" stroke-width="0.12" >2000</text>
<line x1="249.10" y1="146.72" x2="250.50" y2="146.72" stroke="#3a3a3a" stroke-width="0.8" />
<line x1="248.10" y1="136.90" x2="250.50" y2="136.90" stroke="#3a3a3a" stroke-width="0.8" />
<text x="245.4" y="139.39999999999998" font-size="7.5" text-anchor="end" font-weight="normal" fill="#1a1a1a" stroke="#1a1a1a" stroke-width="0.12" >3000</text>
<line x1="249.10" y1="127.07" x2="250.50" y2="127.07" stroke="#3a3a3a" stroke-width="0.8" />
<line x1="248.10" y1="117.25" x2="250.50" y2="117.25" stroke="#3a3a3a" stroke-width="0.8" />
<text x="245.4" y="119.74999999999999" font-size="7.5" text-anchor="end" font-weight="normal" fill="#1a1a1a" stroke="#1a1a1a" stroke-width="0.12" >4000</text>
<line x1="249.10" y1="107.42" x2="250.50" y2="107.42" stroke="#3a3a3a" stroke-width="0.8" />
<line x1="248.10" y1="97.60" x2="250.50" y2="97.60" stroke="#3a3a3a" stroke-width="0.8" />
<text x="245.4" y="100.1" font-size="7.5" text-anchor="end" font-weight="normal" fill="#1a1a1a" stroke="#1a1a1a" stroke-width="0.12" >5000</text>
<line x1="421.30" y1="231.50" x2="423.50" y2="231.50" stroke="#3a3a3a" stroke-width="0.8" />
<text x="426.6" y="234.0" font-size="7.5" text-anchor="start" font-weight="normal" fill="#1a1a1a" stroke="#1a1a1a" stroke-width="0.12" >1.0</text>
<line x1="422.20" y1="227.32" x2="423.50" y2="227.32" stroke="#3a3a3a" stroke-width="0.8" />
<line x1="421.30" y1="223.15" x2="423.50" y2="223.15" stroke="#3a3a3a" stroke-width="0.8" />
<text x="426.6" y="225.65" font-size="7.5" text-anchor="start" font-weight="normal" fill="#1a1a1a" stroke="#1a1a1a" stroke-width="0.12" >1.1</text>
<line x1="422.20" y1="218.97" x2="423.50" y2="218.97" stroke="#3a3a3a" stroke-width="0.8" />
<line x1="421.30" y1="214.80" x2="423.50" y2="214.80" stroke="#3a3a3a" stroke-width="0.8" />
<text x="426.6" y="217.3" font-size="7.5" text-anchor="start" font-weight="normal" fill="#1a1a1a" stroke="#1a1a1a" stroke-width="0.12" >1.2</text>
<line x1="422.20" y1="210.62" x2="423.50" y2="210.62" stroke="#3a3a3a" stroke-width="0.8" />
<line x1="421.30" y1="206.45" x2="423.50" y2="206.45" stroke="#3a3a3a" stroke-width="0.8" />
<text x="426.6" y="208.95" font-size="7.5" text-anchor="start" font-weight="normal" fill="#1a1a1a" stroke="#1a1a1a" stroke-width="0.12" >1.3</text>
<line x1="264.60" y1="232.00" x2="264.60" y2="234.60" stroke="#3a3a3a" stroke-width="0.8" />
<text x="264.6" y="242.3" font-size="7.5" text-anchor="middle" font-weight="normal" fill="#1a1a1a" stroke="#1a1a1a" stroke-width="0.12" >0</text>
<line x1="279.09" y1="232.00" x2="279.09" y2="233.50" stroke="#3a3a3a" stroke-width="0.8" />
<line x1="293.58" y1="232.00" x2="293.58" y2="234.60" stroke="#3a3a3a" stroke-width="0.8" />
<text x="293.58000000000004" y="242.3" font-size="7.5" text-anchor="middle" font-weight="normal" fill="#1a1a1a" stroke="#1a1a1a" stroke-width="0.12" >20</text>
<line x1="308.07" y1="232.00" x2="308.07" y2="233.50" stroke="#3a3a3a" stroke-width="0.8" />
<line x1="322.56" y1="232.00" x2="322.56" y2="234.60" stroke="#3a3a3a" stroke-width="0.8" />
<text x="322.56" y="242.3" font-size="7.5" text-anchor="middle" font-weight="normal" fill="#1a1a1a" stroke="#1a1a1a" stroke-width="0.12" >40</text>
<line x1="337.05" y1="232.00" x2="337.05" y2="233.50" stroke="#3a3a3a" stroke-width="0.8" />
<line x1="351.54" y1="232.00" x2="351.54" y2="234.60" stroke="#3a3a3a" stroke-width="0.8" />
<text x="351.54" y="242.3" font-size="7.5" text-anchor="middle" font-weight="normal" fill="#1a1a1a" stroke="#1a1a1a" stroke-width="0.12" >60</text>
<line x1="366.03" y1="232.00" x2="366.03" y2="233.50" stroke="#3a3a3a" stroke-width="0.8" />
<line x1="380.52" y1="232.00" x2="380.52" y2="234.60" stroke="#3a3a3a" stroke-width="0.8" />
<text x="380.52000000000004" y="242.3" font-size="7.5" text-anchor="middle" font-weight="normal" fill="#1a1a1a" stroke="#1a1a1a" stroke-width="0.12" >80</text>
<line x1="395.01" y1="232.00" x2="395.01" y2="233.50" stroke="#3a3a3a" stroke-width="0.8" />
<line x1="409.50" y1="232.00" x2="409.50" y2="234.60" stroke="#3a3a3a" stroke-width="0.8" />
<text x="409.5" y="242.3" font-size="7.5" text-anchor="middle" font-weight="normal" fill="#1a1a1a" stroke="#1a1a1a" stroke-width="0.12" >100</text>
<text x="215.0" y="102.3" font-size="9" text-anchor="start" font-weight="bold" fill="#111" >c)</text>
<text transform="translate(224.9,142.0) rotate(-90)" font-size="7.4" text-anchor="middle" fill="#1a1a1a" stroke="#1a1a1a" stroke-width="0.12">M<tspan font-size="5" dy="1.6">n</tspan><tspan dy="-1.6"> ( g mol</tspan><tspan font-size="5" dy="-2.8">-1</tspan><tspan dy="2.8">)</tspan></text>
<text transform="translate(435.3,196.2) rotate(-90)" font-size="7.6" text-anchor="middle" fill="#1a1a1a" stroke="#1a1a1a" stroke-width="0.12" font-style="italic">Đ</text>
<text x="337.2" y="251.0" font-size="7.2" text-anchor="middle" font-weight="normal" fill="#1a1a1a" stroke="#1a1a1a" stroke-width="0.12" >Conversion (%)</text>
<g stroke="#8a8a8a" stroke-width="0.9"><line x1="263.10" y1="190.00" x2="266.70" y2="193.60"/><line x1="263.10" y1="193.60" x2="266.70" y2="190.00"/><line x1="263.10" y1="191.80" x2="266.70" y2="191.80"/><line x1="264.90" y1="190.00" x2="264.90" y2="193.60"/></g>
<rect x="263.46" y="190.36" width="2.88" height="2.88" fill="#8a8a8a" opacity="0.55"/>
<g stroke="#8a8a8a" stroke-width="0.9"><line x1="262.90" y1="184.20" x2="266.50" y2="187.80"/><line x1="262.90" y1="187.80" x2="266.50" y2="184.20"/><line x1="262.90" y1="186.00" x2="266.50" y2="186.00"/><line x1="264.70" y1="184.20" x2="264.70" y2="187.80"/></g>
<rect x="263.26" y="184.56" width="2.88" height="2.88" fill="#8a8a8a" opacity="0.55"/>
<g stroke="#222222" stroke-width="0.8"><line x1="264.80" y1="185.10" x2="268.60" y2="188.90"/><line x1="264.80" y1="188.90" x2="268.60" y2="185.10"/></g>
<circle cx="268.20" cy="184.00" r="1.9" fill="#961ef0"/>
<polygon points="270.20,183.36 272.25,186.93 268.15,186.93" fill="#40bde2"/>
<g stroke="#222222" stroke-width="0.8"><line x1="272.60" y1="182.10" x2="276.40" y2="185.90"/><line x1="272.60" y1="185.90" x2="276.40" y2="182.10"/></g>
<rect x="274.77" y="184.38" width="3.25" height="3.25" fill="#d41cf6"/>
<g stroke="#8a8a8a" stroke-width="0.9"><line x1="279.50" y1="180.30" x2="283.10" y2="183.90"/><line x1="279.50" y1="183.90" x2="283.10" y2="180.30"/><line x1="279.50" y1="182.10" x2="283.10" y2="182.10"/><line x1="281.30" y1="180.30" x2="281.30" y2="183.90"/></g>
<rect x="279.86" y="180.66" width="2.88" height="2.88" fill="#8a8a8a" opacity="0.55"/>
<rect x="283.57" y="180.47" width="3.25" height="3.25" fill="#d41cf6"/>
<circle cx="278.00" cy="168.50" r="1.9" fill="#961ef0"/>
<polygon points="294.90,163.86 296.95,167.43 292.85,167.43" fill="#40bde2"/>
<polygon points="292.40,174.54 294.45,170.97 290.35,170.97" fill="#1460ae"/>
<circle cx="300.20" cy="168.50" r="1.9" fill="#961ef0"/>
<g stroke="#222222" stroke-width="0.8"><line x1="301.80" y1="164.60" x2="305.60" y2="168.40"/><line x1="301.80" y1="168.40" x2="305.60" y2="164.60"/></g>
<rect x="308.88" y="164.88" width="3.25" height="3.25" fill="#d41cf6"/>
<polygon points="312.40,155.95 314.65,158.20 312.40,160.45 310.15,158.20" fill="#1ea055"/>
<polygon points="315.70,162.84 317.75,159.27 313.65,159.27" fill="#1460ae"/>
<rect x="326.48" y="154.97" width="3.25" height="3.25" fill="#d41cf6"/>
<g stroke="#222222" stroke-width="0.8"><line x1="331.10" y1="147.00" x2="334.90" y2="150.80"/><line x1="331.10" y1="150.80" x2="334.90" y2="147.00"/></g>
<polygon points="341.80,136.55 344.05,138.80 341.80,141.05 339.55,138.80" fill="#1ea055"/>
<circle cx="353.50" cy="136.90" r="1.9" fill="#961ef0"/>
<rect x="355.77" y="135.28" width="3.25" height="3.25" fill="#d41cf6"/>
<polygon points="358.00,122.46 360.05,126.03 355.95,126.03" fill="#40bde2"/>
<polygon points="361.30,124.85 363.55,127.10 361.30,129.35 359.05,127.10" fill="#1ea055"/>
<polygon points="364.40,131.24 366.45,127.67 362.35,127.67" fill="#1460ae"/>
<g stroke="#222222" stroke-width="0.8"><line x1="359.90" y1="129.10" x2="363.70" y2="132.90"/><line x1="359.90" y1="132.90" x2="363.70" y2="129.10"/></g>
<rect x="365.48" y="129.38" width="3.25" height="3.25" fill="#d41cf6"/>
<rect x="374.38" y="125.47" width="3.25" height="3.25" fill="#d41cf6"/>
<polygon points="374.80,122.94 376.85,119.37 372.75,119.37" fill="#1460ae"/>
<polygon points="375.40,114.55 377.65,116.80 375.40,119.05 373.15,116.80" fill="#1ea055"/>
<g stroke="#222222" stroke-width="0.8"><line x1="378.20" y1="118.90" x2="382.00" y2="122.70"/><line x1="378.20" y1="122.70" x2="382.00" y2="118.90"/></g>
<circle cx="381.80" cy="117.00" r="1.9" fill="#961ef0"/>
<rect x="381.57" y="121.38" width="3.25" height="3.25" fill="#d41cf6"/>
<rect x="386.57" y="119.17" width="3.25" height="3.25" fill="#d41cf6"/>
<polygon points="384.80,109.06 386.85,112.63 382.75,112.63" fill="#40bde2"/>
<polygon points="385.70,117.54 387.75,113.97 383.65,113.97" fill="#1460ae"/>
<polygon points="389.70,117.54 391.75,113.97 387.65,113.97" fill="#1460ae"/>
<g stroke="#222222" stroke-width="0.8"><line x1="392.90" y1="109.50" x2="396.70" y2="113.30"/><line x1="392.90" y1="113.30" x2="396.70" y2="109.50"/></g>
<polygon points="396.40,102.55 398.65,104.80 396.40,107.05 394.15,104.80" fill="#1ea055"/>
<circle cx="396.40" cy="107.40" r="1.9" fill="#961ef0"/>
<polygon points="399.50,110.74 401.55,107.17 397.45,107.17" fill="#1460ae"/>
<polygon points="402.00,110.74 404.05,107.17 399.95,107.17" fill="#1460ae"/>
<polygon points="405.00,110.14 407.05,106.57 402.95,106.57" fill="#1460ae"/>
<g stroke="#222222" stroke-width="0.8"><line x1="400.70" y1="104.80" x2="404.50" y2="108.60"/><line x1="400.70" y1="108.60" x2="404.50" y2="104.80"/></g>
<circle cx="403.40" cy="103.00" r="1.9" fill="#961ef0"/>
<circle cx="406.50" cy="104.30" r="1.9" fill="#961ef0"/>
<polygon points="399.80,99.26 401.85,102.83 397.75,102.83" fill="#40bde2"/>
<polygon points="402.50,97.86 404.55,101.43 400.45,101.43" fill="#40bde2"/>
<polygon points="405.00,96.66 407.05,100.23 402.95,100.23" fill="#40bde2"/>
<polygon points="407.30,95.66 409.35,99.23 405.25,99.23" fill="#40bde2"/>
<polygon points="407.30,97.55 409.55,99.80 407.30,102.05 405.05,99.80" fill="#1ea055"/>
<polygon points="408.90,95.95 411.15,98.20 408.90,100.45 406.65,98.20" fill="#1ea055"/>
<rect x="403.88" y="99.88" width="3.25" height="3.25" fill="#d41cf6"/>
<g stroke="#8a8a8a" stroke-width="0.9"><line x1="263.10" y1="219.50" x2="266.70" y2="223.10"/><line x1="263.10" y1="223.10" x2="266.70" y2="219.50"/><line x1="263.10" y1="221.30" x2="266.70" y2="221.30"/><line x1="264.90" y1="219.50" x2="264.90" y2="223.10"/></g>
<rect x="263.46" y="219.86" width="2.88" height="2.88" fill="#8a8a8a" opacity="0.55"/>
<g stroke="#8a8a8a" stroke-width="0.9"><line x1="264.00" y1="227.30" x2="267.60" y2="230.90"/><line x1="264.00" y1="230.90" x2="267.60" y2="227.30"/><line x1="264.00" y1="229.10" x2="267.60" y2="229.10"/><line x1="265.80" y1="227.30" x2="265.80" y2="230.90"/></g>
<rect x="264.36" y="227.66" width="2.88" height="2.88" fill="#8a8a8a" opacity="0.55"/>
<circle cx="268.40" cy="230.00" r="1.9" fill="#961ef0"/>
<g stroke="#222222" stroke-width="0.8"><line x1="265.60" y1="221.10" x2="269.40" y2="224.90"/><line x1="265.60" y1="224.90" x2="269.40" y2="221.10"/></g>
<polygon points="268.90,215.66 270.95,219.23 266.85,219.23" fill="#40bde2"/>
<g stroke="#8a8a8a" stroke-width="0.9"><line x1="271.00" y1="216.80" x2="274.60" y2="220.40"/><line x1="271.00" y1="220.40" x2="274.60" y2="216.80"/><line x1="271.00" y1="218.60" x2="274.60" y2="218.60"/><line x1="272.80" y1="216.80" x2="272.80" y2="220.40"/></g>
<rect x="271.36" y="217.16" width="2.88" height="2.88" fill="#8a8a8a" opacity="0.55"/>
<polygon points="272.40,217.35 274.65,219.60 272.40,221.85 270.15,219.60" fill="#1ea055"/>
<g stroke="#222222" stroke-width="0.8"><line x1="273.50" y1="212.70" x2="277.30" y2="216.50"/><line x1="273.50" y1="216.50" x2="277.30" y2="212.70"/></g>
<g stroke="#8a8a8a" stroke-width="0.9"><line x1="278.80" y1="212.10" x2="282.40" y2="215.70"/><line x1="278.80" y1="215.70" x2="282.40" y2="212.10"/><line x1="278.80" y1="213.90" x2="282.40" y2="213.90"/><line x1="280.60" y1="212.10" x2="280.60" y2="215.70"/></g>
<rect x="279.16" y="212.46" width="2.88" height="2.88" fill="#8a8a8a" opacity="0.55"/>
<circle cx="278.00" cy="219.20" r="1.9" fill="#961ef0"/>
<rect x="274.68" y="221.78" width="3.25" height="3.25" fill="#d41cf6"/>
<rect x="283.38" y="216.47" width="3.25" height="3.25" fill="#d41cf6"/>
<polygon points="292.00,218.14 294.05,214.57 289.95,214.57" fill="#1460ae"/>
<polygon points="294.60,212.16 296.65,215.73 292.55,215.73" fill="#40bde2"/>
<circle cx="299.90" cy="219.20" r="1.9" fill="#961ef0"/>
<g stroke="#222222" stroke-width="0.8"><line x1="301.50" y1="219.40" x2="305.30" y2="223.20"/><line x1="301.50" y1="223.20" x2="305.30" y2="219.40"/></g>
<polygon points="315.70,216.44 317.75,212.87 313.65,212.87" fill="#1460ae"/>
<rect x="308.77" y="217.57" width="3.25" height="3.25" fill="#d41cf6"/>
<polygon points="313.00,218.15 315.25,220.40 313.00,222.65 310.75,220.40" fill="#1ea055"/>
<rect x="326.77" y="218.38" width="3.25" height="3.25" fill="#d41cf6"/>
<g stroke="#222222" stroke-width="0.8"><line x1="331.50" y1="219.90" x2="335.30" y2="223.70"/><line x1="331.50" y1="223.70" x2="335.30" y2="219.90"/></g>
<polygon points="342.00,220.45 344.25,222.70 342.00,224.95 339.75,222.70" fill="#1ea055"/>
<circle cx="353.10" cy="221.60" r="1.9" fill="#961ef0"/>
<rect x="354.88" y="222.18" width="3.25" height="3.25" fill="#d41cf6"/>
<polygon points="358.00,219.66 360.05,223.23 355.95,223.23" fill="#40bde2"/>
<polygon points="361.00,219.75 363.25,222.00 361.00,224.25 358.75,222.00" fill="#1ea055"/>
<polygon points="363.50,224.34 365.55,220.77 361.45,220.77" fill="#1460ae"/>
<rect x="365.18" y="221.97" width="3.25" height="3.25" fill="#d41cf6"/>
<g stroke="#222222" stroke-width="0.8"><line x1="360.50" y1="222.70" x2="364.30" y2="226.50"/><line x1="360.50" y1="226.50" x2="364.30" y2="222.70"/></g>
<polygon points="374.50,224.34 376.55,220.77 372.45,220.77" fill="#1460ae"/>
<polygon points="375.20,221.95 377.45,224.20 375.20,226.45 372.95,224.20" fill="#1ea055"/>
<g stroke="#222222" stroke-width="0.8"><line x1="377.80" y1="222.70" x2="381.60" y2="226.50"/><line x1="377.80" y1="226.50" x2="381.60" y2="222.70"/></g>
<circle cx="381.00" cy="222.80" r="1.9" fill="#961ef0"/>
<polygon points="384.00,220.06 386.05,223.63 381.95,223.63" fill="#40bde2"/>
<rect x="384.98" y="221.97" width="3.25" height="3.25" fill="#d41cf6"/>
<polygon points="389.00,224.54 391.05,220.97 386.95,220.97" fill="#1460ae"/>
<polygon points="391.20,220.86 393.25,224.43 389.15,224.43" fill="#40bde2"/>
<g stroke="#222222" stroke-width="0.8"><line x1="392.80" y1="222.70" x2="396.60" y2="226.50"/><line x1="392.80" y1="226.50" x2="396.60" y2="222.70"/></g>
<polygon points="396.40,220.55 398.65,222.80 396.40,225.05 394.15,222.80" fill="#1ea055"/>
<polygon points="398.00,220.46 400.05,224.03 395.95,224.03" fill="#40bde2"/>
<polygon points="400.20,224.74 402.25,221.17 398.15,221.17" fill="#1460ae"/>
<polygon points="401.80,220.95 404.05,223.20 401.80,225.45 399.55,223.20" fill="#1ea055"/>
<polygon points="404.20,224.74 406.25,221.17 402.15,221.17" fill="#1460ae"/>
<g stroke="#222222" stroke-width="0.8"><line x1="401.60" y1="223.30" x2="405.40" y2="227.10"/><line x1="401.60" y1="227.10" x2="405.40" y2="223.30"/></g>
<polygon points="406.60,220.35 408.85,222.60 406.60,224.85 404.35,222.60" fill="#1ea055"/>
<polygon points="409.60,220.55 411.85,222.80 409.60,225.05 407.35,222.80" fill="#1ea055"/>
<polygon points="407.00,220.86 409.05,224.43 404.95,224.43" fill="#40bde2"/>
<circle cx="405.00" cy="224.00" r="1.9" fill="#961ef0"/>
<text x="431.6" y="13.0" font-size="9" text-anchor="start" font-weight="bold" fill="#111" >d)</text>
<rect x="458.5" y="10.5" width="177.0" height="48.0" fill="none" stroke="#5a5a5a" stroke-width="1"/>
<line x1="456.30" y1="53.80" x2="458.50" y2="53.80" stroke="#3a3a3a" stroke-width="0.8" />
<line x1="635.50" y1="53.80" x2="637.70" y2="53.80" stroke="#3a3a3a" stroke-width="0.8" />
<text x="454.6" y="56.3" font-size="7.5" text-anchor="end" font-weight="normal" fill="#1a1a1a" stroke="#1a1a1a" stroke-width="0.12" >80</text>
<text x="638.2" y="56.3" font-size="7.5" text-anchor="start" font-weight="normal" fill="#1a1a1a" stroke="#1a1a1a" stroke-width="0.12" >80</text>
<line x1="457.20" y1="43.90" x2="458.50" y2="43.90" stroke="#3a3a3a" stroke-width="0.8" />
<line x1="635.50" y1="43.90" x2="636.80" y2="43.90" stroke="#3a3a3a" stroke-width="0.8" />
<line x1="456.30" y1="34.00" x2="458.50" y2="34.00" stroke="#3a3a3a" stroke-width="0.8" />
<line x1="635.50" y1="34.00" x2="637.70" y2="34.00" stroke="#3a3a3a" stroke-width="0.8" />
<text x="454.6" y="36.5" font-size="7.5" text-anchor="end" font-weight="normal" fill="#1a1a1a" stroke="#1a1a1a" stroke-width="0.12" >90</text>
<text x="638.2" y="36.5" font-size="7.5" text-anchor="start" font-weight="normal" fill="#1a1a1a" stroke="#1a1a1a" stroke-width="0.12" >90</text>
<line x1="457.20" y1="24.10" x2="458.50" y2="24.10" stroke="#3a3a3a" stroke-width="0.8" />
<line x1="635.50" y1="24.10" x2="636.80" y2="24.10" stroke="#3a3a3a" stroke-width="0.8" />
<line x1="456.30" y1="14.20" x2="458.50" y2="14.20" stroke="#3a3a3a" stroke-width="0.8" />
<line x1="635.50" y1="14.20" x2="637.70" y2="14.20" stroke="#3a3a3a" stroke-width="0.8" />
<text x="454.6" y="16.7" font-size="7.5" text-anchor="end" font-weight="normal" fill="#1a1a1a" stroke="#1a1a1a" stroke-width="0.12" >100</text>
<text x="638.2" y="16.7" font-size="7.5" text-anchor="start" font-weight="normal" fill="#1a1a1a" stroke="#1a1a1a" stroke-width="0.12" >100</text>
<line x1="461.69" y1="58.50" x2="461.69" y2="57.30" stroke="#3a3a3a" stroke-width="0.8" />
<line x1="465.37" y1="58.50" x2="465.37" y2="57.30" stroke="#3a3a3a" stroke-width="0.8" />
<line x1="468.60" y1="58.50" x2="468.60" y2="57.30" stroke="#3a3a3a" stroke-width="0.8" />
<line x1="471.50" y1="58.50" x2="471.50" y2="56.30" stroke="#3a3a3a" stroke-width="0.8" />
<line x1="490.56" y1="58.50" x2="490.56" y2="57.30" stroke="#3a3a3a" stroke-width="0.8" />
<line x1="501.70" y1="58.50" x2="501.70" y2="57.30" stroke="#3a3a3a" stroke-width="0.8" />
<line x1="509.61" y1="58.50" x2="509.61" y2="57.30" stroke="#3a3a3a" stroke-width="0.8" />
<line x1="515.74" y1="58.50" x2="515.74" y2="57.30" stroke="#3a3a3a" stroke-width="0.8" />
<line x1="520.76" y1="58.50" x2="520.76" y2="57.30" stroke="#3a3a3a" stroke-width="0.8" />
<line x1="524.99" y1="58.50" x2="524.99" y2="57.30" stroke="#3a3a3a" stroke-width="0.8" />
<line x1="528.67" y1="58.50" x2="528.67" y2="57.30" stroke="#3a3a3a" stroke-width="0.8" />
<line x1="531.90" y1="58.50" x2="531.90" y2="57.30" stroke="#3a3a3a" stroke-width="0.8" />
<line x1="534.80" y1="58.50" x2="534.80" y2="56.30" stroke="#3a3a3a" stroke-width="0.8" />
<line x1="553.86" y1="58.50" x2="553.86" y2="57.30" stroke="#3a3a3a" stroke-width="0.8" />
<line x1="565.00" y1="58.50" x2="565.00" y2="57.30" stroke="#3a3a3a" stroke-width="0.8" />
<line x1="572.91" y1="58.50" x2="572.91" y2="57.30" stroke="#3a3a3a" stroke-width="0.8" />
<line x1="579.04" y1="58.50" x2="579.04" y2="57.30" stroke="#3a3a3a" stroke-width="0.8" />
<line x1="584.06" y1="58.50" x2="584.06" y2="57.30" stroke="#3a3a3a" stroke-width="0.8" />
<line x1="588.29" y1="58.50" x2="588.29" y2="57.30" stroke="#3a3a3a" stroke-width="0.8" />
<line x1="591.97" y1="58.50" x2="591.97" y2="57.30" stroke="#3a3a3a" stroke-width="0.8" />
<line x1="595.20" y1="58.50" x2="595.20" y2="57.30" stroke="#3a3a3a" stroke-width="0.8" />
<line x1="598.10" y1="58.50" x2="598.10" y2="56.30" stroke="#3a3a3a" stroke-width="0.8" />
<line x1="617.16" y1="58.50" x2="617.16" y2="57.30" stroke="#3a3a3a" stroke-width="0.8" />
<text x="471.5" y="66.9" font-size="7.5" text-anchor="middle" font-weight="normal" fill="#1a1a1a" stroke="#1a1a1a" stroke-width="0.12" >10</text>
<text x="534.8" y="66.9" font-size="7.5" text-anchor="middle" font-weight="normal" fill="#1a1a1a" stroke="#1a1a1a" stroke-width="0.12" >100</text>
<text x="598.1" y="66.9" font-size="7.5" text-anchor="middle" font-weight="normal" fill="#1a1a1a" stroke="#1a1a1a" stroke-width="0.12" >1000</text>
<text x="534.8" y="75.1" font-size="6.8" text-anchor="middle" font-weight="normal" fill="#333" stroke="#333" stroke-width="0.12" >Targeted DP</text>
<text transform="translate(658.4,32.7) rotate(-90)" font-size="7.0" text-anchor="middle" fill="#1a1a1a" stroke="#1a1a1a" stroke-width="0.12">Conversion (%)</text>
<rect x="470.10" y="44.90" width="2.8" height="2.8" fill="#111111"/>
<rect x="489.16" y="23.10" width="2.8" height="2.8" fill="#dd22f8"/>
<rect x="514.34" y="15.20" width="2.8" height="2.8" fill="#a020f0"/>
<rect x="533.40" y="14.60" width="2.8" height="2.8" fill="#0a1ca0"/>
<rect x="552.46" y="15.10" width="2.8" height="2.8" fill="#1a5ab0"/>
<rect x="577.64" y="15.00" width="2.8" height="2.8" fill="#40c0e8"/>
<rect x="596.70" y="16.10" width="2.8" height="2.8" fill="#20a040"/>
<rect x="615.76" y="19.20" width="2.8" height="2.8" fill="#109030"/>
<line x1="458.50" y1="92.50" x2="635.50" y2="92.50" stroke="#5a5a5a" stroke-width="1.0" />
<line x1="458.50" y1="92.50" x2="458.50" y2="232.50" stroke="#3a3a3a" stroke-width="1.0" />
<line x1="635.50" y1="92.50" x2="635.50" y2="232.50" stroke="#3a3a3a" stroke-width="1.0" />
<line x1="458.50" y1="134.50" x2="635.50" y2="134.50" stroke="#3a3a3a" stroke-width="1.0" />
<rect x="633.0" y="132.3" width="5" height="1.7" fill="#fff"/>
<line x1="632.70" y1="133.90" x2="637.70" y2="130.90" stroke="#3a3a3a" stroke-width="0.7" />
<line x1="632.70" y1="136.50" x2="637.70" y2="133.50" stroke="#3a3a3a" stroke-width="0.7" />
<line x1="461.69" y1="92.50" x2="461.69" y2="93.70" stroke="#3a3a3a" stroke-width="0.8" />
<line x1="465.37" y1="92.50" x2="465.37" y2="93.70" stroke="#3a3a3a" stroke-width="0.8" />
<line x1="468.60" y1="92.50" x2="468.60" y2="93.70" stroke="#3a3a3a" stroke-width="0.8" />
<line x1="471.50" y1="92.50" x2="471.50" y2="94.70" stroke="#3a3a3a" stroke-width="0.8" />
<line x1="490.56" y1="92.50" x2="490.56" y2="93.70" stroke="#3a3a3a" stroke-width="0.8" />
<line x1="501.70" y1="92.50" x2="501.70" y2="93.70" stroke="#3a3a3a" stroke-width="0.8" />
<line x1="509.61" y1="92.50" x2="509.61" y2="93.70" stroke="#3a3a3a" stroke-width="0.8" />
<line x1="515.74" y1="92.50" x2="515.74" y2="93.70" stroke="#3a3a3a" stroke-width="0.8" />
<line x1="520.76" y1="92.50" x2="520.76" y2="93.70" stroke="#3a3a3a" stroke-width="0.8" />
<line x1="524.99" y1="92.50" x2="524.99" y2="93.70" stroke="#3a3a3a" stroke-width="0.8" />
<line x1="528.67" y1="92.50" x2="528.67" y2="93.70" stroke="#3a3a3a" stroke-width="0.8" />
<line x1="531.90" y1="92.50" x2="531.90" y2="93.70" stroke="#3a3a3a" stroke-width="0.8" />
<line x1="534.80" y1="92.50" x2="534.80" y2="94.70" stroke="#3a3a3a" stroke-width="0.8" />
<line x1="553.86" y1="92.50" x2="553.86" y2="93.70" stroke="#3a3a3a" stroke-width="0.8" />
<line x1="565.00" y1="92.50" x2="565.00" y2="93.70" stroke="#3a3a3a" stroke-width="0.8" />
<line x1="572.91" y1="92.50" x2="572.91" y2="93.70" stroke="#3a3a3a" stroke-width="0.8" />
<line x1="579.04" y1="92.50" x2="579.04" y2="93.70" stroke="#3a3a3a" stroke-width="0.8" />
<line x1="584.06" y1="92.50" x2="584.06" y2="93.70" stroke="#3a3a3a" stroke-width="0.8" />
<line x1="588.29" y1="92.50" x2="588.29" y2="93.70" stroke="#3a3a3a" stroke-width="0.8" />
<line x1="591.97" y1="92.50" x2="591.97" y2="93.70" stroke="#3a3a3a" stroke-width="0.8" />
<line x1="595.20" y1="92.50" x2="595.20" y2="93.70" stroke="#3a3a3a" stroke-width="0.8" />
<line x1="598.10" y1="92.50" x2="598.10" y2="94.70" stroke="#3a3a3a" stroke-width="0.8" />
<line x1="617.16" y1="92.50" x2="617.16" y2="93.70" stroke="#3a3a3a" stroke-width="0.8" />
<text x="471.5" y="87.6" font-size="7.5" text-anchor="middle" font-weight="normal" fill="#1a1a1a" stroke="#1a1a1a" stroke-width="0.12" >10</text>
<text x="534.8" y="87.6" font-size="7.5" text-anchor="middle" font-weight="normal" fill="#1a1a1a" stroke="#1a1a1a" stroke-width="0.12" >100</text>
<text x="598.1" y="87.6" font-size="7.5" text-anchor="middle" font-weight="normal" fill="#1a1a1a" stroke="#1a1a1a" stroke-width="0.12" >1000</text>
<line x1="635.50" y1="130.88" x2="637.70" y2="130.88" stroke="#3a3a3a" stroke-width="0.8" />
<text x="638.0" y="133.38" font-size="7.5" text-anchor="start" font-weight="normal" fill="#1a1a1a" stroke="#1a1a1a" stroke-width="0.12" >1.05</text>
<line x1="635.50" y1="121.66" x2="637.70" y2="121.66" stroke="#3a3a3a" stroke-width="0.8" />
<text x="638.0" y="124.15999999999998" font-size="7.5" text-anchor="start" font-weight="normal" fill="#1a1a1a" stroke="#1a1a1a" stroke-width="0.12" >1.10</text>
<line x1="635.50" y1="112.44" x2="637.70" y2="112.44" stroke="#3a3a3a" stroke-width="0.8" />
<text x="638.0" y="114.93999999999997" font-size="7.5" text-anchor="start" font-weight="normal" fill="#1a1a1a" stroke="#1a1a1a" stroke-width="0.12" >1.15</text>
<line x1="635.50" y1="103.22" x2="637.70" y2="103.22" stroke="#3a3a3a" stroke-width="0.8" />
<text x="638.0" y="105.71999999999997" font-size="7.5" text-anchor="start" font-weight="normal" fill="#1a1a1a" stroke="#1a1a1a" stroke-width="0.12" >1.20</text>
<line x1="635.50" y1="94.00" x2="637.70" y2="94.00" stroke="#3a3a3a" stroke-width="0.8" />
<text x="638.0" y="96.5" font-size="7.5" text-anchor="start" font-weight="normal" fill="#1a1a1a" stroke="#1a1a1a" stroke-width="0.12" >1.25</text>
<rect x="470.10" y="116.50" width="2.8" height="2.8" fill="#111111"/>
<rect x="489.16" y="116.50" width="2.8" height="2.8" fill="#dd22f8"/>
<rect x="514.34" y="120.00" width="2.8" height="2.8" fill="#a020f0"/>
<rect x="533.40" y="121.80" width="2.8" height="2.8" fill="#0a1ca0"/>
<rect x="552.46" y="116.40" width="2.8" height="2.8" fill="#1a5ab0"/>
<rect x="577.64" y="110.80" width="2.8" height="2.8" fill="#40c0e8"/>
<rect x="596.70" y="107.10" width="2.8" height="2.8" fill="#20a040"/>
<rect x="615.76" y="101.50" width="2.8" height="2.8" fill="#109030"/>
<text transform="translate(646.2,139.0) rotate(-90)" font-size="7.6" text-anchor="middle" fill="#1a1a1a" stroke="#1a1a1a" stroke-width="0.12" font-style="italic">Đ</text>
<line x1="458.50" y1="232.50" x2="635.50" y2="232.50" stroke="#3a3a3a" stroke-width="1.0" />
<line x1="458.71" y1="232.50" x2="458.71" y2="233.90" stroke="#3a3a3a" stroke-width="0.8" />
<line x1="467.20" y1="232.50" x2="467.20" y2="233.90" stroke="#3a3a3a" stroke-width="0.8" />
<line x1="473.22" y1="232.50" x2="473.22" y2="233.90" stroke="#3a3a3a" stroke-width="0.8" />
<line x1="477.89" y1="232.50" x2="477.89" y2="233.90" stroke="#3a3a3a" stroke-width="0.8" />
<line x1="481.71" y1="232.50" x2="481.71" y2="233.90" stroke="#3a3a3a" stroke-width="0.8" />
<line x1="484.93" y1="232.50" x2="484.93" y2="233.90" stroke="#3a3a3a" stroke-width="0.8" />
<line x1="487.73" y1="232.50" x2="487.73" y2="233.90" stroke="#3a3a3a" stroke-width="0.8" />
<line x1="490.19" y1="232.50" x2="490.19" y2="233.90" stroke="#3a3a3a" stroke-width="0.8" />
<line x1="492.40" y1="232.50" x2="492.40" y2="234.90" stroke="#3a3a3a" stroke-width="0.8" />
<line x1="506.91" y1="232.50" x2="506.91" y2="233.90" stroke="#3a3a3a" stroke-width="0.8" />
<line x1="515.40" y1="232.50" x2="515.40" y2="233.90" stroke="#3a3a3a" stroke-width="0.8" />
<line x1="521.42" y1="232.50" x2="521.42" y2="233.90" stroke="#3a3a3a" stroke-width="0.8" />
<line x1="526.09" y1="232.50" x2="526.09" y2="233.90" stroke="#3a3a3a" stroke-width="0.8" />
<line x1="529.91" y1="232.50" x2="529.91" y2="233.90" stroke="#3a3a3a" stroke-width="0.8" />
<line x1="533.13" y1="232.50" x2="533.13" y2="233.90" stroke="#3a3a3a" stroke-width="0.8" />
<line x1="535.93" y1="232.50" x2="535.93" y2="233.90" stroke="#3a3a3a" stroke-width="0.8" />
<line x1="538.39" y1="232.50" x2="538.39" y2="233.90" stroke="#3a3a3a" stroke-width="0.8" />
<line x1="540.60" y1="232.50" x2="540.60" y2="234.90" stroke="#3a3a3a" stroke-width="0.8" />
<line x1="555.11" y1="232.50" x2="555.11" y2="233.90" stroke="#3a3a3a" stroke-width="0.8" />
<line x1="563.60" y1="232.50" x2="563.60" y2="233.90" stroke="#3a3a3a" stroke-width="0.8" />
<line x1="569.62" y1="232.50" x2="569.62" y2="233.90" stroke="#3a3a3a" stroke-width="0.8" />
<line x1="574.29" y1="232.50" x2="574.29" y2="233.90" stroke="#3a3a3a" stroke-width="0.8" />
<line x1="578.11" y1="232.50" x2="578.11" y2="233.90" stroke="#3a3a3a" stroke-width="0.8" />
<line x1="581.33" y1="232.50" x2="581.33" y2="233.90" stroke="#3a3a3a" stroke-width="0.8" />
<line x1="584.13" y1="232.50" x2="584.13" y2="233.90" stroke="#3a3a3a" stroke-width="0.8" />
<line x1="586.59" y1="232.50" x2="586.59" y2="233.90" stroke="#3a3a3a" stroke-width="0.8" />
<line x1="588.80" y1="232.50" x2="588.80" y2="234.90" stroke="#3a3a3a" stroke-width="0.8" />
<line x1="603.31" y1="232.50" x2="603.31" y2="233.90" stroke="#3a3a3a" stroke-width="0.8" />
<line x1="611.80" y1="232.50" x2="611.80" y2="233.90" stroke="#3a3a3a" stroke-width="0.8" />
<line x1="617.82" y1="232.50" x2="617.82" y2="233.90" stroke="#3a3a3a" stroke-width="0.8" />
<line x1="622.49" y1="232.50" x2="622.49" y2="233.90" stroke="#3a3a3a" stroke-width="0.8" />
<line x1="626.31" y1="232.50" x2="626.31" y2="233.90" stroke="#3a3a3a" stroke-width="0.8" />
<line x1="629.53" y1="232.50" x2="629.53" y2="233.90" stroke="#3a3a3a" stroke-width="0.8" />
<line x1="632.33" y1="232.50" x2="632.33" y2="233.90" stroke="#3a3a3a" stroke-width="0.8" />
<line x1="634.79" y1="232.50" x2="634.79" y2="233.90" stroke="#3a3a3a" stroke-width="0.8" />
<text x="492.4" y="242.0" font-size="7.5" text-anchor="middle" font-weight="normal" fill="#1a1a1a" stroke="#1a1a1a" stroke-width="0.12" >1000</text>
<text x="540.6" y="242.0" font-size="7.5" text-anchor="middle" font-weight="normal" fill="#1a1a1a" stroke="#1a1a1a" stroke-width="0.12" >10000</text>
<text x="588.8" y="242.0" font-size="7.5" text-anchor="middle" font-weight="normal" fill="#1a1a1a" stroke="#1a1a1a" stroke-width="0.12" >100000</text>
<text x="543.3" y="251.6" font-size="7.6" text-anchor="middle" font-weight="normal" fill="#1a1a1a" stroke="#1a1a1a" stroke-width="0.12" >Molar Mass (g mol<tspan font-size="5" dy="-2.8">-1</tspan><tspan dy="2.8">)</tspan></text>
<text transform="translate(452.6,187.4) rotate(-90)" font-size="7.6" text-anchor="middle" fill="#1a1a1a" stroke="#1a1a1a" stroke-width="0.12">Normalized Intensity (RI)</text>
<polyline points="465.80,231.64 466.20,231.58 466.60,231.51 467.00,231.44 467.40,231.35 467.80,231.26 468.20,231.15 468.60,231.03 469.00,230.89 469.40,230.74 469.80,230.56 470.20,230.37 470.60,230.15 471.00,229.91 471.40,229.64 471.80,229.35 472.20,229.02 472.60,228.66 473.00,228.26 473.40,227.82 473.80,227.34 474.20,226.82 474.60,226.25 475.00,225.63 475.40,224.95 475.80,224.22 476.20,223.43 476.60,222.58 477.00,221.66 477.40,220.68 477.80,219.62 478.20,218.50 478.60,217.30 479.00,216.03 479.40,214.68 479.80,213.26 480.20,211.76 480.60,210.18 481.00,208.53 481.40,206.80 481.80,204.99 482.20,203.12 482.60,201.17 483.00,199.16 483.40,197.09 483.80,194.96 484.20,192.77 484.60,190.54 485.00,188.27 485.40,185.96 485.80,183.63 486.20,181.29 486.60,178.93 487.00,176.57 487.40,174.22 487.80,171.90 488.20,169.60 488.60,167.34 489.00,165.13 489.40,162.98 489.80,160.91 490.20,158.91 490.60,157.01 491.00,155.21 491.40,153.53 491.80,151.96 492.20,150.53 492.60,149.23 493.00,148.08 493.40,147.08 493.80,146.23 494.20,145.55 494.60,145.04 495.00,144.69 495.40,144.52 495.80,144.53 496.20,144.77 496.60,145.25 497.00,145.97 497.40,146.92 497.80,148.09 498.20,149.47 498.60,151.06 499.00,152.83 499.40,154.78 499.80,156.89 500.20,159.15 500.60,161.53 501.00,164.02 501.40,166.61 501.80,169.27 502.20,171.99 502.60,174.75 503.00,177.53 503.40,180.32 503.80,183.11 504.20,185.87 504.60,188.60 505.00,191.28 505.40,193.90 505.80,196.45 506.20,198.92 506.60,201.30 507.00,203.59 507.40,205.79 507.80,207.88 508.20,209.86 508.60,211.74 509.00,213.51 509.40,215.17 509.80,216.73 510.20,218.18 510.60,219.52 511.00,220.77 511.40,221.92 511.80,222.98 512.20,223.95 512.60,224.83 513.00,225.64 513.40,226.37 513.80,227.03 514.20,227.62 514.60,228.16 515.00,228.63 515.40,229.06 515.80,229.44 516.20,229.78 516.60,230.08 517.00,230.34 517.40,230.57 517.80,230.77 518.20,230.95 518.60,231.10 519.00,231.24 519.40,231.35 519.80,231.45 520.20,231.54 520.60,231.61" fill="none" stroke="#444444" stroke-width="1.0" stroke-linejoin="miter"/>
<polyline points="476.80,231.62 477.20,231.59 477.60,231.55 478.00,231.52 478.40,231.48 478.80,231.44 479.20,231.39 479.60,231.35 480.00,231.29 480.40,231.24 480.80,231.18 481.20,231.12 481.60,231.06 482.00,230.99 482.40,230.92 482.80,230.85 483.20,230.77 483.60,230.69 484.00,230.60 484.40,230.51 484.80,230.41 485.20,230.31 485.60,230.20 486.00,230.09 486.40,229.98 486.80,229.85 487.20,229.73 487.60,229.59 488.00,229.45 488.40,229.30 488.80,229.14 489.20,228.98 489.60,228.80 490.00,228.61 490.40,228.40 490.80,228.18 491.20,227.95 491.60,227.69 492.00,227.41 492.40,227.10 492.80,226.75 493.20,226.37 493.60,225.94 494.00,225.47 494.40,224.93 494.80,224.33 495.20,223.66 495.60,222.90 496.00,222.05 496.40,221.09 496.80,220.02 497.20,218.83 497.60,217.50 498.00,216.02 498.40,214.38 498.80,212.59 499.20,210.62 499.60,208.48 500.00,206.16 500.40,203.66 500.80,200.99 501.20,198.15 501.60,195.15 502.00,192.01 502.40,188.73 502.80,185.36 503.20,181.90 503.60,178.39 504.00,174.86 504.40,171.35 504.80,167.90 505.20,164.54 505.60,161.31 506.00,158.27 506.40,155.43 506.80,152.86 507.20,150.58 507.60,148.62 508.00,147.02 508.40,145.80 508.80,144.97 509.20,144.55 509.60,144.55 510.00,144.94 510.40,145.71 510.80,146.85 511.20,148.35 511.60,150.19 512.00,152.34 512.40,154.78 512.80,157.48 513.20,160.40 513.60,163.51 514.00,166.78 514.40,170.17 514.80,173.64 515.20,177.16 515.60,180.70 516.00,184.22 516.40,187.70 516.80,191.10 517.20,194.41 517.60,197.61 518.00,200.67 518.40,203.59 518.80,206.35 519.20,208.95 519.60,211.37 520.00,213.62 520.40,215.70 520.80,217.61 521.20,219.35 521.60,220.93 522.00,222.35 522.40,223.63 522.80,224.77 523.20,225.79 523.60,226.68 524.00,227.47 524.40,228.16 524.80,228.75 525.20,229.27 525.60,229.71 526.00,230.10 526.40,230.42 526.80,230.69 527.20,230.93 527.60,231.12 528.00,231.28 528.40,231.42 528.80,231.53 529.20,231.62" fill="none" stroke="#e040f0" stroke-width="1.0" stroke-linejoin="miter"/>
<polyline points="495.00,231.62 495.40,231.59 495.80,231.55 496.20,231.52 496.60,231.48 497.00,231.44 497.40,231.39 497.80,231.35 498.20,231.29 498.60,231.24 499.00,231.18 499.40,231.12 499.80,231.06 500.20,230.99 500.60,230.92 501.00,230.85 501.40,230.77 501.80,230.69 502.20,230.60 502.60,230.51 503.00,230.41 503.40,230.31 503.80,230.20 504.20,230.09 504.60,229.98 505.00,229.85 505.40,229.73 505.80,229.59 506.20,229.45 506.60,229.30 507.00,229.14 507.40,228.98 507.80,228.80 508.20,228.61 508.60,228.40 509.00,228.18 509.40,227.95 509.80,227.69 510.20,227.41 510.60,227.10 511.00,226.75 511.40,226.37 511.80,225.94 512.20,225.47 512.60,224.93 513.00,224.33 513.40,223.66 513.80,222.90 514.20,222.05 514.60,221.09 515.00,220.02 515.40,218.83 515.80,217.50 516.20,216.02 516.60,214.38 517.00,212.59 517.40,210.62 517.80,208.48 518.20,206.16 518.60,203.66 519.00,200.99 519.40,198.15 519.80,195.15 520.20,192.01 520.60,188.73 521.00,185.36 521.40,181.90 521.80,178.39 522.20,174.86 522.60,171.35 523.00,167.90 523.40,164.54 523.80,161.31 524.20,158.27 524.60,155.43 525.00,152.86 525.40,150.58 525.80,148.62 526.20,147.02 526.60,145.80 527.00,144.97 527.40,144.55 527.80,144.55 528.20,144.96 528.60,145.76 529.00,146.96 529.40,148.52 529.80,150.44 530.20,152.68 530.60,155.21 531.00,158.01 531.40,161.03 531.80,164.24 532.20,167.60 532.60,171.07 533.00,174.62 533.40,178.20 533.80,181.79 534.20,185.35 534.60,188.84 535.00,192.25 535.40,195.55 535.80,198.71 536.20,201.73 536.60,204.59 537.00,207.28 537.40,209.80 537.80,212.14 538.20,214.29 538.60,216.27 539.00,218.08 539.40,219.72 539.80,221.20 540.20,222.53 540.60,223.71 541.00,224.77 541.40,225.70 541.80,226.52 542.20,227.24 542.60,227.87 543.00,228.41 543.40,228.89 543.80,229.29 544.20,229.64 544.60,229.95 545.00,230.20 545.40,230.43 545.80,230.62 546.20,230.78 546.60,230.92 547.00,231.04 547.40,231.14 547.80,231.23 548.20,231.30 548.60,231.37 549.00,231.43 549.40,231.48 549.80,231.52 550.20,231.56 550.60,231.60 551.00,231.63" fill="none" stroke="#b060f0" stroke-width="1.0" stroke-linejoin="miter"/>
<polyline points="512.00,231.63 512.40,231.60 512.80,231.56 513.20,231.52 513.60,231.48 514.00,231.43 514.40,231.39 514.80,231.33 515.20,231.28 515.60,231.22 516.00,231.15 516.40,231.08 516.80,231.01 517.20,230.93 517.60,230.85 518.00,230.77 518.40,230.67 518.80,230.58 519.20,230.47 519.60,230.37 520.00,230.25 520.40,230.13 520.80,230.01 521.20,229.87 521.60,229.73 522.00,229.58 522.40,229.43 522.80,229.26 523.20,229.09 523.60,228.90 524.00,228.69 524.40,228.48 524.80,228.24 525.20,227.98 525.60,227.70 526.00,227.39 526.40,227.05 526.80,226.66 527.20,226.23 527.60,225.74 528.00,225.18 528.40,224.55 528.80,223.84 529.20,223.02 529.60,222.10 530.00,221.04 530.40,219.85 530.80,218.51 531.20,217.00 531.60,215.30 532.00,213.42 532.40,211.33 532.80,209.03 533.20,206.52 533.60,203.79 534.00,200.85 534.40,197.71 534.80,194.38 535.20,190.87 535.60,187.23 536.00,183.46 536.40,179.62 536.80,175.74 537.20,171.88 537.60,168.07 538.00,164.37 538.40,160.84 538.80,157.54 539.20,154.50 539.60,151.79 540.00,149.46 540.40,147.54 540.80,146.06 541.20,145.07 541.60,144.56 542.00,144.56 542.40,145.04 542.80,145.99 543.20,147.39 543.60,149.22 544.00,151.45 544.40,154.05 544.80,156.98 545.20,160.18 545.60,163.61 546.00,167.23 546.40,170.98 546.80,174.82 547.20,178.69 547.60,182.56 548.00,186.38 548.40,190.11 548.80,193.73 549.20,197.21 549.60,200.52 550.00,203.64 550.40,206.57 550.80,209.29 551.20,211.80 551.60,214.10 552.00,216.20 552.40,218.10 552.80,219.80 553.20,221.32 553.60,222.67 554.00,223.87 554.40,224.92 554.80,225.83 555.20,226.63 555.60,227.32 556.00,227.92 556.40,228.44 556.80,228.88 557.20,229.26 557.60,229.58 558.00,229.86 558.40,230.10 558.80,230.31 559.20,230.48 559.60,230.64 560.00,230.77 560.40,230.89 560.80,230.99 561.20,231.08 561.60,231.16 562.00,231.23 562.40,231.29 562.80,231.35 563.20,231.41 563.60,231.45 564.00,231.50 564.40,231.54 564.80,231.58 565.20,231.61 565.60,231.64" fill="none" stroke="#3f5fc0" stroke-width="1.0" stroke-linejoin="miter"/>
<polyline points="523.50,231.64 523.90,231.61 524.30,231.58 524.70,231.54 525.10,231.51 525.50,231.47 525.90,231.43 526.30,231.38 526.70,231.34 527.10,231.29 527.50,231.23 527.90,231.18 528.30,231.12 528.70,231.05 529.10,230.99 529.50,230.92 529.90,230.84 530.30,230.77 530.70,230.69 531.10,230.60 531.50,230.51 531.90,230.42 532.30,230.32 532.70,230.21 533.10,230.10 533.50,229.99 533.90,229.86 534.30,229.73 534.70,229.60 535.10,229.45 535.50,229.29 535.90,229.12 536.30,228.94 536.70,228.74 537.10,228.52 537.50,228.28 537.90,228.02 538.30,227.72 538.70,227.39 539.10,227.01 539.50,226.59 539.90,226.12 540.30,225.58 540.70,224.97 541.10,224.27 541.50,223.49 541.90,222.60 542.30,221.59 542.70,220.46 543.10,219.19 543.50,217.78 543.90,216.20 544.30,214.45 544.70,212.53 545.10,210.42 545.50,208.12 545.90,205.63 546.30,202.96 546.70,200.10 547.10,197.07 547.50,193.88 547.90,190.54 548.30,187.09 548.70,183.54 549.10,179.92 549.50,176.27 549.90,172.64 550.30,169.04 550.70,165.54 551.10,162.17 551.50,158.98 551.90,156.01 552.30,153.31 552.70,150.91 553.10,148.85 553.50,147.16 553.90,145.87 554.30,144.99 554.70,144.56 555.10,144.56 555.50,145.08 555.90,146.10 556.30,147.61 556.70,149.58 557.10,151.97 557.50,154.75 557.90,157.86 558.30,161.25 558.70,164.86 559.10,168.65 559.50,172.55 559.90,176.51 560.30,180.49 560.70,184.42 561.10,188.27 561.50,192.01 561.90,195.60 562.30,199.01 562.70,202.22 563.10,205.23 563.50,208.01 563.90,210.58 564.30,212.92 564.70,215.05 565.10,216.97 565.50,218.69 565.90,220.22 566.30,221.58 566.70,222.78 567.10,223.83 567.50,224.75 567.90,225.56 568.30,226.26 568.70,226.88 569.10,227.41 569.50,227.88 569.90,228.28 570.30,228.64 570.70,228.95 571.10,229.23 571.50,229.48 571.90,229.69 572.30,229.89 572.70,230.07 573.10,230.23 573.50,230.37 573.90,230.50 574.30,230.62 574.70,230.74 575.10,230.84 575.50,230.94 575.90,231.02 576.30,231.11 576.70,231.18 577.10,231.25 577.50,231.32 577.90,231.38 578.30,231.43 578.70,231.48 579.10,231.53 579.50,231.58 579.90,231.62" fill="none" stroke="#4a8ad0" stroke-width="1.0" stroke-linejoin="miter"/>
<polyline points="544.60,231.65 545.00,231.61 545.40,231.57 545.80,231.53 546.20,231.49 546.60,231.44 547.00,231.39 547.40,231.33 547.80,231.27 548.20,231.21 548.60,231.14 549.00,231.06 549.40,230.99 549.80,230.90 550.20,230.82 550.60,230.72 551.00,230.62 551.40,230.52 551.80,230.41 552.20,230.30 552.60,230.17 553.00,230.05 553.40,229.91 553.80,229.77 554.20,229.62 554.60,229.46 555.00,229.29 555.40,229.11 555.80,228.92 556.20,228.71 556.60,228.48 557.00,228.23 557.40,227.95 557.80,227.64 558.20,227.28 558.60,226.87 559.00,226.39 559.40,225.83 559.80,225.17 560.20,224.39 560.60,223.48 561.00,222.42 561.40,221.16 561.80,219.70 562.20,218.01 562.60,216.06 563.00,213.84 563.40,211.32 563.80,208.50 564.20,205.36 564.60,201.91 565.00,198.16 565.40,194.14 565.80,189.88 566.20,185.42 566.60,180.82 567.00,176.16 567.40,171.51 567.80,166.95 568.20,162.58 568.60,158.50 569.00,154.79 569.40,151.54 569.80,148.83 570.20,146.74 570.60,145.31 571.00,144.59 571.40,144.60 571.80,145.36 572.20,146.87 572.60,149.07 573.00,151.91 573.40,155.31 573.80,159.18 574.20,163.41 574.60,167.92 575.00,172.58 575.40,177.32 575.80,182.02 576.20,186.63 576.60,191.05 577.00,195.25 577.40,199.17 577.80,202.79 578.20,206.09 578.60,209.07 579.00,211.73 579.40,214.08 579.80,216.15 580.20,217.95 580.60,219.51 581.00,220.86 581.40,222.02 581.80,223.02 582.20,223.88 582.60,224.63 583.00,225.28 583.40,225.84 583.80,226.34 584.20,226.79 584.60,227.18 585.00,227.55 585.40,227.88 585.80,228.18 586.20,228.46 586.60,228.72 587.00,228.97 587.40,229.19 587.80,229.41 588.20,229.61 588.60,229.80 589.00,229.98 589.40,230.14 589.80,230.30 590.20,230.44 590.60,230.58 591.00,230.70 591.40,230.82 591.80,230.93 592.20,231.03 592.60,231.12 593.00,231.21 593.40,231.29 593.80,231.36 594.20,231.42 594.60,231.48 595.00,231.54 595.40,231.59 595.80,231.63" fill="none" stroke="#7ccff0" stroke-width="1.0" stroke-linejoin="miter"/>
<polyline points="561.20,231.64 561.60,231.60 562.00,231.56 562.40,231.51 562.80,231.47 563.20,231.41 563.60,231.35 564.00,231.28 564.40,231.20 564.80,231.12 565.20,231.02 565.60,230.90 566.00,230.77 566.40,230.62 566.80,230.43 567.20,230.22 567.60,229.96 568.00,229.66 568.40,229.29 568.80,228.86 569.20,228.34 569.60,227.72 570.00,226.98 570.40,226.11 570.80,225.09 571.20,223.90 571.60,222.52 572.00,220.93 572.40,219.10 572.80,217.03 573.20,214.69 573.60,212.09 574.00,209.20 574.40,206.04 574.80,202.61 575.20,198.92 575.60,195.00 576.00,190.87 576.40,186.58 576.80,182.18 577.20,177.72 577.60,173.27 578.00,168.89 578.40,164.66 578.80,160.65 579.20,156.94 579.60,153.61 580.00,150.71 580.40,148.31 580.80,146.47 581.20,145.21 581.60,144.58 582.00,144.56 582.40,145.07 582.80,146.06 583.20,147.53 583.60,149.45 584.00,151.77 584.40,154.46 584.80,157.46 585.20,160.72 585.60,164.19 586.00,167.80 586.40,171.51 586.80,175.27 587.20,179.01 587.60,182.70 588.00,186.29 588.40,189.76 588.80,193.07 589.20,196.20 589.60,199.14 590.00,201.87 590.40,204.40 590.80,206.72 591.20,208.84 591.60,210.75 592.00,212.49 592.40,214.04 592.80,215.44 593.20,216.68 593.60,217.80 594.00,218.79 594.40,219.68 594.80,220.48 595.20,221.20 595.60,221.84 596.00,222.43 596.40,222.97 596.80,223.46 597.20,223.91 597.60,224.33 598.00,224.73 598.40,225.10 598.80,225.45 599.20,225.79 599.60,226.10 600.00,226.41 600.40,226.70 600.80,226.98 601.20,227.24 601.60,227.50 602.00,227.75 602.40,227.98 602.80,228.21 603.20,228.43 603.60,228.64 604.00,228.84 604.40,229.03 604.80,229.21 605.20,229.39 605.60,229.55 606.00,229.71 606.40,229.86 606.80,230.00 607.20,230.14 607.60,230.27 608.00,230.39 608.40,230.50 608.80,230.61 609.20,230.71 609.60,230.80 610.00,230.89 610.40,230.98 610.80,231.06 611.20,231.13 611.60,231.20 612.00,231.26 612.40,231.32 612.80,231.38 613.20,231.43 613.60,231.48 614.00,231.52 614.40,231.56 614.80,231.60 615.20,231.64" fill="none" stroke="#50bea0" stroke-width="1.0" stroke-linejoin="miter"/>
<polyline points="562.90,231.65 563.30,231.62 563.70,231.58 564.10,231.54 564.50,231.50 564.90,231.46 565.30,231.41 565.70,231.35 566.10,231.29 566.50,231.23 566.90,231.15 567.30,231.07 567.70,230.98 568.10,230.87 568.50,230.75 568.90,230.61 569.30,230.45 569.70,230.27 570.10,230.05 570.50,229.80 570.90,229.50 571.30,229.16 571.70,228.75 572.10,228.28 572.50,227.73 572.90,227.09 573.30,226.34 573.70,225.49 574.10,224.50 574.50,223.37 574.90,222.08 575.30,220.63 575.70,218.99 576.10,217.16 576.50,215.12 576.90,212.87 577.30,210.40 577.70,207.72 578.10,204.82 578.50,201.71 578.90,198.41 579.30,194.92 579.70,191.28 580.10,187.50 580.50,183.63 580.90,179.70 581.30,175.75 581.70,171.82 582.10,167.98 582.50,164.26 582.90,160.73 583.30,157.42 583.70,154.40 584.10,151.71 584.50,149.40 584.90,147.50 585.30,146.04 585.70,145.06 586.10,144.56 586.50,144.56 586.90,145.00 587.30,145.87 587.70,147.16 588.10,148.84 588.50,150.89 588.90,153.27 589.30,155.93 589.70,158.84 590.10,161.95 590.50,165.21 590.90,168.58 591.30,172.00 591.70,175.45 592.10,178.87 592.50,182.24 592.90,185.51 593.30,188.67 593.70,191.69 594.10,194.56 594.50,197.26 594.90,199.78 595.30,202.13 595.70,204.30 596.10,206.30 596.50,208.13 596.90,209.80 597.30,211.31 597.70,212.69 598.10,213.94 598.50,215.07 598.90,216.10 599.30,217.03 599.70,217.88 600.10,218.65 600.50,219.36 600.90,220.02 601.30,220.62 601.70,221.19 602.10,221.71 602.50,222.21 602.90,222.68 603.30,223.12 603.70,223.54 604.10,223.95 604.50,224.33 604.90,224.70 605.30,225.06 605.70,225.40 606.10,225.74 606.50,226.05 606.90,226.36 607.30,226.66 607.70,226.94 608.10,227.21 608.50,227.48 608.90,227.73 609.30,227.97 609.70,228.21 610.10,228.43 610.50,228.64 610.90,228.85 611.30,229.04 611.70,229.22 612.10,229.40 612.50,229.57 612.90,229.73 613.30,229.88 613.70,230.02 614.10,230.16 614.50,230.28 614.90,230.40 615.30,230.52 615.70,230.62 616.10,230.72 616.50,230.82 616.90,230.91 617.30,230.99 617.70,231.07 618.10,231.14 618.50,231.21 618.90,231.27 619.30,231.33 619.70,231.38 620.10,231.43 620.50,231.48 620.90,231.53 621.30,231.57 621.70,231.60 622.10,231.64" fill="none" stroke="#40a040" stroke-width="1.0" stroke-linejoin="miter"/>
<text x="616.9" y="142.6" font-size="7.5" text-anchor="start" font-weight="normal" fill="#1a1a1a" stroke="#1a1a1a" stroke-width="0.12" >DP</text>
<line x1="598.20" y1="149.40" x2="614.50" y2="149.40" stroke="#444444" stroke-width="0.9" />
<text x="616.9" y="151.9" font-size="7.5" text-anchor="start" font-weight="normal" fill="#1a1a1a" stroke="#1a1a1a" stroke-width="0.12" >10</text>
<line x1="598.20" y1="158.70" x2="614.50" y2="158.70" stroke="#e040f0" stroke-width="0.9" />
<text x="616.9" y="161.2" font-size="7.5" text-anchor="start" font-weight="normal" fill="#1a1a1a" stroke="#1a1a1a" stroke-width="0.12" >20</text>
<line x1="598.20" y1="168.00" x2="614.50" y2="168.00" stroke="#b060f0" stroke-width="0.9" />
<text x="616.9" y="170.5" font-size="7.5" text-anchor="start" font-weight="normal" fill="#1a1a1a" stroke="#1a1a1a" stroke-width="0.12" >50</text>
<line x1="598.20" y1="177.30" x2="614.50" y2="177.30" stroke="#3f5fc0" stroke-width="0.9" />
<text x="616.9" y="179.8" font-size="7.5" text-anchor="start" font-weight="normal" fill="#1a1a1a" stroke="#1a1a1a" stroke-width="0.12" >100</text>
<line x1="598.20" y1="186.60" x2="614.50" y2="186.60" stroke="#4a8ad0" stroke-width="0.9" />
<text x="616.9" y="189.1" font-size="7.5" text-anchor="start" font-weight="normal" fill="#1a1a1a" stroke="#1a1a1a" stroke-width="0.12" >200</text>
<line x1="598.20" y1="195.90" x2="614.50" y2="195.90" stroke="#7ccff0" stroke-width="0.9" />
<text x="616.9" y="198.4" font-size="7.5" text-anchor="start" font-weight="normal" fill="#1a1a1a" stroke="#1a1a1a" stroke-width="0.12" >500</text>
<line x1="598.20" y1="205.20" x2="614.50" y2="205.20" stroke="#50bea0" stroke-width="0.9" />
<text x="616.9" y="207.7" font-size="7.5" text-anchor="start" font-weight="normal" fill="#1a1a1a" stroke="#1a1a1a" stroke-width="0.12" >1000</text>
<line x1="598.20" y1="214.50" x2="614.50" y2="214.50" stroke="#40a040" stroke-width="0.9" />
<text x="616.9" y="217.0" font-size="7.5" text-anchor="start" font-weight="normal" fill="#1a1a1a" stroke="#1a1a1a" stroke-width="0.12" >2000</text>
</svg>
</body></html>
